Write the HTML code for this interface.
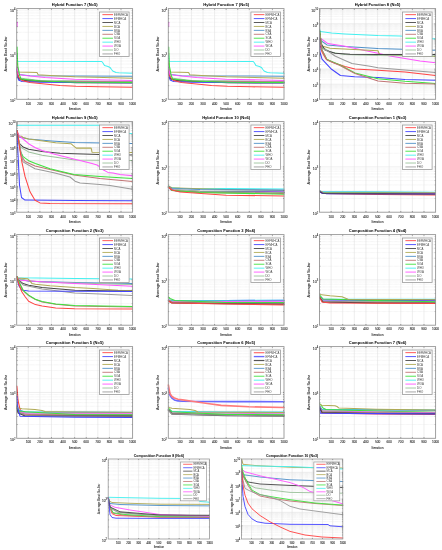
<!DOCTYPE html>
<html><head><meta charset="utf-8"><style>
html,body{margin:0;padding:0;background:#fff;}
svg{display:block;}
text{font-family:'Liberation Sans', Arial, Helvetica, sans-serif;fill:#262626;}
.tl{fill:#333333;stroke:#333333;stroke-width:0.09;}
.lt{fill:#444444;}
.tt{font-weight:bold;fill:#000;}
.g{stroke:#e0e0e0;stroke-width:0.55;}
.mg{stroke:#d6d6d6;stroke-width:0.4;stroke-dasharray:0.6 0.6;}
.cv{fill:none;stroke-linejoin:round;stroke-linecap:round;}
.tk{stroke:#333;fill:none;}
.ax{fill:none;stroke:#969696;}
.lg{fill:#fff;stroke:#9a9a9a;}
</style></head><body>
<svg width="442" height="550" viewBox="0 0 442 550">
<rect width="442" height="550" fill="#fff"/>
<line x1="16.70" y1="85.65" x2="132.60" y2="85.65" class="mg"/>
<line x1="16.70" y1="77.66" x2="132.60" y2="77.66" class="mg"/>
<line x1="16.70" y1="72.00" x2="132.60" y2="72.00" class="mg"/>
<line x1="16.70" y1="67.60" x2="132.60" y2="67.60" class="mg"/>
<line x1="16.70" y1="64.01" x2="132.60" y2="64.01" class="mg"/>
<line x1="16.70" y1="60.97" x2="132.60" y2="60.97" class="mg"/>
<line x1="16.70" y1="58.34" x2="132.60" y2="58.34" class="mg"/>
<line x1="16.70" y1="56.03" x2="132.60" y2="56.03" class="mg"/>
<line x1="16.70" y1="40.30" x2="132.60" y2="40.30" class="mg"/>
<line x1="16.70" y1="32.31" x2="132.60" y2="32.31" class="mg"/>
<line x1="16.70" y1="26.65" x2="132.60" y2="26.65" class="mg"/>
<line x1="16.70" y1="22.25" x2="132.60" y2="22.25" class="mg"/>
<line x1="16.70" y1="18.66" x2="132.60" y2="18.66" class="mg"/>
<line x1="16.70" y1="15.62" x2="132.60" y2="15.62" class="mg"/>
<line x1="16.70" y1="12.99" x2="132.60" y2="12.99" class="mg"/>
<line x1="16.70" y1="10.68" x2="132.60" y2="10.68" class="mg"/>
<line x1="16.70" y1="53.95" x2="132.60" y2="53.95" class="g"/>
<line x1="28.29" y1="8.60" x2="28.29" y2="99.30" class="g"/>
<line x1="39.88" y1="8.60" x2="39.88" y2="99.30" class="g"/>
<line x1="51.47" y1="8.60" x2="51.47" y2="99.30" class="g"/>
<line x1="63.06" y1="8.60" x2="63.06" y2="99.30" class="g"/>
<line x1="74.65" y1="8.60" x2="74.65" y2="99.30" class="g"/>
<line x1="86.24" y1="8.60" x2="86.24" y2="99.30" class="g"/>
<line x1="97.83" y1="8.60" x2="97.83" y2="99.30" class="g"/>
<line x1="109.42" y1="8.60" x2="109.42" y2="99.30" class="g"/>
<line x1="121.01" y1="8.60" x2="121.01" y2="99.30" class="g"/>
<g>
<polyline points="17.0,55.0 17.4,61.3 101.8,61.5 103.0,63.0 104.5,65.6 108.0,66.5 110.0,67.4 111.5,69.5 112.7,71.0 116.0,72.5 118.8,72.8 132.6,73.3" stroke="#44f0f0" class="cv" style="stroke-width:1.05"/>
<polyline points="17.0,66.0 17.5,71.0 19.0,74.5 30.0,75.8 132.6,76.2" stroke="#4f90c8" class="cv" style="stroke-width:1.05"/>
<polyline points="17.0,62.0 17.6,68.0 18.2,72.0 37.0,72.4 38.2,74.8 50.0,75.4 75.0,76.8 132.6,78.3" stroke="#b0aa55" class="cv" style="stroke-width:1.05"/>
<polyline points="17.0,68.0 17.5,73.0 19.0,78.0 40.0,80.5 132.6,81.5" stroke="#9cc29c" class="cv" style="stroke-width:1.05"/>
<polyline points="17.0,68.0 17.5,74.0 19.0,79.0 40.0,81.0 132.6,81.8" stroke="#9a9a9a" class="cv" style="stroke-width:1.05"/>
<polyline points="17.0,69.0 17.5,75.0 18.5,79.0 30.0,81.5 132.6,82.2" stroke="#c07474" class="cv" style="stroke-width:1.05"/>
<polyline points="17.0,69.0 17.5,75.0 18.5,78.5 25.0,80.5 76.0,82.8 132.6,83.0" stroke="#464646" class="cv" style="stroke-width:1.05"/>
<polyline points="17.0,70.0 17.5,75.0 18.5,80.0 22.0,81.5 40.0,82.2 132.6,82.8" stroke="#4444ff" class="cv" style="stroke-width:1.05"/>
<polyline points="17.0,70.0 17.5,73.0 18.5,77.0 22.0,80.5 30.0,82.5 45.0,84.0 60.0,85.5 76.0,86.3 100.0,86.8 132.6,87.3" stroke="#ff4444" class="cv" style="stroke-width:1.05"/>
<polyline points="17.1,22.3 17.1,26.2" stroke="#ff55ff" class="cv" style="stroke-width:1.05"/>
<polyline points="17.0,66.0 17.6,71.0 18.5,74.5 25.0,75.5 45.0,77.5 74.0,79.2 132.6,80.5" stroke="#ff55ff" class="cv" style="stroke-width:1.05"/>
<polyline points="17.1,47.0 17.3,55.0 17.8,66.0 18.8,71.0 19.5,75.0 21.0,79.0 40.0,81.0 76.0,82.3 132.6,82.6" stroke="#3ee23e" class="cv" style="stroke-width:1.05"/>
</g>
<path d="M28.29,99.30v-1.00M28.29,8.60v1.00M39.88,99.30v-1.00M39.88,8.60v1.00M51.47,99.30v-1.00M51.47,8.60v1.00M63.06,99.30v-1.00M63.06,8.60v1.00M74.65,99.30v-1.00M74.65,8.60v1.00M86.24,99.30v-1.00M86.24,8.60v1.00M97.83,99.30v-1.00M97.83,8.60v1.00M109.42,99.30v-1.00M109.42,8.60v1.00M121.01,99.30v-1.00M121.01,8.60v1.00M16.70,53.95h1.00M132.60,53.95h-1.00M16.70,85.65h0.80M132.60,85.65h-0.80M16.70,77.66h0.80M132.60,77.66h-0.80M16.70,72.00h0.80M132.60,72.00h-0.80M16.70,67.60h0.80M132.60,67.60h-0.80M16.70,64.01h0.80M132.60,64.01h-0.80M16.70,60.97h0.80M132.60,60.97h-0.80M16.70,58.34h0.80M132.60,58.34h-0.80M16.70,56.03h0.80M132.60,56.03h-0.80M16.70,40.30h0.80M132.60,40.30h-0.80M16.70,32.31h0.80M132.60,32.31h-0.80M16.70,26.65h0.80M132.60,26.65h-0.80M16.70,22.25h0.80M132.60,22.25h-0.80M16.70,18.66h0.80M132.60,18.66h-0.80M16.70,15.62h0.80M132.60,15.62h-0.80M16.70,12.99h0.80M132.60,12.99h-0.80M16.70,10.68h0.80M132.60,10.68h-0.80" class="tk" style="stroke-width:0.60"/>
<rect x="16.70" y="8.60" width="115.90" height="90.70" class="ax" style="stroke-width:0.90"/>
<text x="28.29" y="105.00" class="tl" text-anchor="middle" style="font-size:3.20px">100</text>
<text x="39.88" y="105.00" class="tl" text-anchor="middle" style="font-size:3.20px">200</text>
<text x="51.47" y="105.00" class="tl" text-anchor="middle" style="font-size:3.20px">300</text>
<text x="63.06" y="105.00" class="tl" text-anchor="middle" style="font-size:3.20px">400</text>
<text x="74.65" y="105.00" class="tl" text-anchor="middle" style="font-size:3.20px">500</text>
<text x="86.24" y="105.00" class="tl" text-anchor="middle" style="font-size:3.20px">600</text>
<text x="97.83" y="105.00" class="tl" text-anchor="middle" style="font-size:3.20px">700</text>
<text x="109.42" y="105.00" class="tl" text-anchor="middle" style="font-size:3.20px">800</text>
<text x="121.01" y="105.00" class="tl" text-anchor="middle" style="font-size:3.20px">900</text>
<text x="132.60" y="105.00" class="tl" text-anchor="middle" style="font-size:3.20px">1000</text>
<text x="15.40" y="102.20" class="tl" text-anchor="end" style="font-size:3.60px">10<tspan dy="-1.60" style="font-size:2.62px">2</tspan></text>
<text x="15.40" y="56.85" class="tl" text-anchor="end" style="font-size:3.60px">10<tspan dy="-1.60" style="font-size:2.62px">3</tspan></text>
<text x="15.40" y="11.50" class="tl" text-anchor="end" style="font-size:3.60px">10<tspan dy="-1.60" style="font-size:2.62px">4</tspan></text>
<text x="74.65" y="109.60" class="tl" text-anchor="middle" style="font-size:3.30px">Iteration</text>
<text transform="translate(6.90,53.95) rotate(-90)" class="tl" text-anchor="middle" style="font-size:3.90px">Average Best So-far</text>
<text x="74.65" y="6.30" class="tt" text-anchor="middle" style="font-size:4.05px">Hybrid Function 7 (N=5)</text>
<rect x="99.50" y="12.00" width="29.60" height="44.40" class="lg" style="stroke-width:0.80"/>
<line x1="102.40" y1="14.65" x2="113.00" y2="14.65" stroke="#ff4444" style="stroke-width:0.89"/>
<text x="114.10" y="15.80" class="lt" style="font-size:2.85px">EEFMHCA</text>
<line x1="102.40" y1="18.58" x2="113.00" y2="18.58" stroke="#4444ff" style="stroke-width:0.89"/>
<text x="114.10" y="19.73" class="lt" style="font-size:2.85px">EFMHCA</text>
<line x1="102.40" y1="22.51" x2="113.00" y2="22.51" stroke="#464646" style="stroke-width:0.89"/>
<text x="114.10" y="23.66" class="lt" style="font-size:2.85px">MCA</text>
<line x1="102.40" y1="26.44" x2="113.00" y2="26.44" stroke="#b0aa55" style="stroke-width:0.89"/>
<text x="114.10" y="27.59" class="lt" style="font-size:2.85px">BCA</text>
<line x1="102.40" y1="30.37" x2="113.00" y2="30.37" stroke="#4f90c8" style="stroke-width:0.89"/>
<text x="114.10" y="31.52" class="lt" style="font-size:2.85px">BSA</text>
<line x1="102.40" y1="34.30" x2="113.00" y2="34.30" stroke="#c07474" style="stroke-width:0.89"/>
<text x="114.10" y="35.45" class="lt" style="font-size:2.85px">CSA</text>
<line x1="102.40" y1="38.23" x2="113.00" y2="38.23" stroke="#3ee23e" style="stroke-width:0.89"/>
<text x="114.10" y="39.38" class="lt" style="font-size:2.85px">SOA</text>
<line x1="102.40" y1="42.16" x2="113.00" y2="42.16" stroke="#44f0f0" style="stroke-width:0.89"/>
<text x="114.10" y="43.31" class="lt" style="font-size:2.85px">WHO</text>
<line x1="102.40" y1="46.09" x2="113.00" y2="46.09" stroke="#ff55ff" style="stroke-width:0.89"/>
<text x="114.10" y="47.24" class="lt" style="font-size:2.85px">WOA</text>
<line x1="102.40" y1="50.02" x2="113.00" y2="50.02" stroke="#9cc29c" style="stroke-width:0.89"/>
<text x="114.10" y="51.17" class="lt" style="font-size:2.85px">DO</text>
<line x1="102.40" y1="53.95" x2="113.00" y2="53.95" stroke="#9a9a9a" style="stroke-width:0.89"/>
<text x="114.10" y="55.10" class="lt" style="font-size:2.85px">FHO</text>
<line x1="168.30" y1="85.65" x2="284.00" y2="85.65" class="mg"/>
<line x1="168.30" y1="77.66" x2="284.00" y2="77.66" class="mg"/>
<line x1="168.30" y1="72.00" x2="284.00" y2="72.00" class="mg"/>
<line x1="168.30" y1="67.60" x2="284.00" y2="67.60" class="mg"/>
<line x1="168.30" y1="64.01" x2="284.00" y2="64.01" class="mg"/>
<line x1="168.30" y1="60.97" x2="284.00" y2="60.97" class="mg"/>
<line x1="168.30" y1="58.34" x2="284.00" y2="58.34" class="mg"/>
<line x1="168.30" y1="56.03" x2="284.00" y2="56.03" class="mg"/>
<line x1="168.30" y1="40.30" x2="284.00" y2="40.30" class="mg"/>
<line x1="168.30" y1="32.31" x2="284.00" y2="32.31" class="mg"/>
<line x1="168.30" y1="26.65" x2="284.00" y2="26.65" class="mg"/>
<line x1="168.30" y1="22.25" x2="284.00" y2="22.25" class="mg"/>
<line x1="168.30" y1="18.66" x2="284.00" y2="18.66" class="mg"/>
<line x1="168.30" y1="15.62" x2="284.00" y2="15.62" class="mg"/>
<line x1="168.30" y1="12.99" x2="284.00" y2="12.99" class="mg"/>
<line x1="168.30" y1="10.68" x2="284.00" y2="10.68" class="mg"/>
<line x1="168.30" y1="53.95" x2="284.00" y2="53.95" class="g"/>
<line x1="179.87" y1="8.60" x2="179.87" y2="99.30" class="g"/>
<line x1="191.44" y1="8.60" x2="191.44" y2="99.30" class="g"/>
<line x1="203.01" y1="8.60" x2="203.01" y2="99.30" class="g"/>
<line x1="214.58" y1="8.60" x2="214.58" y2="99.30" class="g"/>
<line x1="226.15" y1="8.60" x2="226.15" y2="99.30" class="g"/>
<line x1="237.72" y1="8.60" x2="237.72" y2="99.30" class="g"/>
<line x1="249.29" y1="8.60" x2="249.29" y2="99.30" class="g"/>
<line x1="260.86" y1="8.60" x2="260.86" y2="99.30" class="g"/>
<line x1="272.43" y1="8.60" x2="272.43" y2="99.30" class="g"/>
<g>
<polyline points="168.6,55.0 169.0,61.3 253.3,61.5 254.5,63.0 255.9,65.6 259.4,66.5 261.4,67.4 262.9,69.5 264.1,71.0 267.4,72.5 270.2,72.8 284.0,73.3" stroke="#44f0f0" class="cv" style="stroke-width:1.05"/>
<polyline points="168.6,66.0 169.1,71.0 170.6,74.5 181.6,75.8 284.0,76.2" stroke="#4f90c8" class="cv" style="stroke-width:1.05"/>
<polyline points="168.6,62.0 169.2,68.0 169.8,72.0 188.6,72.4 189.8,74.8 201.5,75.4 226.5,76.8 284.0,78.3" stroke="#b0aa55" class="cv" style="stroke-width:1.05"/>
<polyline points="168.6,68.0 169.1,73.0 170.6,78.0 191.6,80.5 284.0,81.5" stroke="#9cc29c" class="cv" style="stroke-width:1.05"/>
<polyline points="168.6,68.0 169.1,74.0 170.6,79.0 191.6,81.0 284.0,81.8" stroke="#9a9a9a" class="cv" style="stroke-width:1.05"/>
<polyline points="168.6,69.0 169.1,75.0 170.1,79.0 181.6,81.5 284.0,82.2" stroke="#c07474" class="cv" style="stroke-width:1.05"/>
<polyline points="168.6,69.0 169.1,75.0 170.1,78.5 176.6,80.5 227.5,82.8 284.0,83.0" stroke="#464646" class="cv" style="stroke-width:1.05"/>
<polyline points="168.6,70.0 169.1,75.0 170.1,80.0 173.6,81.5 191.6,82.2 284.0,82.8" stroke="#4444ff" class="cv" style="stroke-width:1.05"/>
<polyline points="168.6,70.0 169.1,73.0 170.1,77.0 173.6,80.5 181.6,82.5 196.6,84.0 211.5,85.5 227.5,86.3 251.5,86.8 284.0,87.3" stroke="#ff4444" class="cv" style="stroke-width:1.05"/>
<polyline points="168.7,22.3 168.7,26.2" stroke="#ff55ff" class="cv" style="stroke-width:1.05"/>
<polyline points="168.6,66.0 169.2,71.0 170.1,74.5 176.6,75.5 196.6,77.5 225.5,79.2 284.0,80.5" stroke="#ff55ff" class="cv" style="stroke-width:1.05"/>
<polyline points="168.7,47.0 168.9,55.0 169.4,66.0 170.4,71.0 171.1,75.0 172.6,79.0 191.6,81.0 227.5,82.3 284.0,82.6" stroke="#3ee23e" class="cv" style="stroke-width:1.05"/>
</g>
<path d="M179.87,99.30v-1.00M179.87,8.60v1.00M191.44,99.30v-1.00M191.44,8.60v1.00M203.01,99.30v-1.00M203.01,8.60v1.00M214.58,99.30v-1.00M214.58,8.60v1.00M226.15,99.30v-1.00M226.15,8.60v1.00M237.72,99.30v-1.00M237.72,8.60v1.00M249.29,99.30v-1.00M249.29,8.60v1.00M260.86,99.30v-1.00M260.86,8.60v1.00M272.43,99.30v-1.00M272.43,8.60v1.00M168.30,53.95h1.00M284.00,53.95h-1.00M168.30,85.65h0.80M284.00,85.65h-0.80M168.30,77.66h0.80M284.00,77.66h-0.80M168.30,72.00h0.80M284.00,72.00h-0.80M168.30,67.60h0.80M284.00,67.60h-0.80M168.30,64.01h0.80M284.00,64.01h-0.80M168.30,60.97h0.80M284.00,60.97h-0.80M168.30,58.34h0.80M284.00,58.34h-0.80M168.30,56.03h0.80M284.00,56.03h-0.80M168.30,40.30h0.80M284.00,40.30h-0.80M168.30,32.31h0.80M284.00,32.31h-0.80M168.30,26.65h0.80M284.00,26.65h-0.80M168.30,22.25h0.80M284.00,22.25h-0.80M168.30,18.66h0.80M284.00,18.66h-0.80M168.30,15.62h0.80M284.00,15.62h-0.80M168.30,12.99h0.80M284.00,12.99h-0.80M168.30,10.68h0.80M284.00,10.68h-0.80" class="tk" style="stroke-width:0.60"/>
<rect x="168.30" y="8.60" width="115.70" height="90.70" class="ax" style="stroke-width:0.90"/>
<text x="179.87" y="105.00" class="tl" text-anchor="middle" style="font-size:3.20px">100</text>
<text x="191.44" y="105.00" class="tl" text-anchor="middle" style="font-size:3.20px">200</text>
<text x="203.01" y="105.00" class="tl" text-anchor="middle" style="font-size:3.20px">300</text>
<text x="214.58" y="105.00" class="tl" text-anchor="middle" style="font-size:3.20px">400</text>
<text x="226.15" y="105.00" class="tl" text-anchor="middle" style="font-size:3.20px">500</text>
<text x="237.72" y="105.00" class="tl" text-anchor="middle" style="font-size:3.20px">600</text>
<text x="249.29" y="105.00" class="tl" text-anchor="middle" style="font-size:3.20px">700</text>
<text x="260.86" y="105.00" class="tl" text-anchor="middle" style="font-size:3.20px">800</text>
<text x="272.43" y="105.00" class="tl" text-anchor="middle" style="font-size:3.20px">900</text>
<text x="284.00" y="105.00" class="tl" text-anchor="middle" style="font-size:3.20px">1000</text>
<text x="167.00" y="102.20" class="tl" text-anchor="end" style="font-size:3.60px">10<tspan dy="-1.60" style="font-size:2.62px">2</tspan></text>
<text x="167.00" y="56.85" class="tl" text-anchor="end" style="font-size:3.60px">10<tspan dy="-1.60" style="font-size:2.62px">3</tspan></text>
<text x="167.00" y="11.50" class="tl" text-anchor="end" style="font-size:3.60px">10<tspan dy="-1.60" style="font-size:2.62px">4</tspan></text>
<text x="226.15" y="109.60" class="tl" text-anchor="middle" style="font-size:3.30px">Iteration</text>
<text transform="translate(158.50,53.95) rotate(-90)" class="tl" text-anchor="middle" style="font-size:3.90px">Average Best So-far</text>
<text x="226.15" y="6.30" class="tt" text-anchor="middle" style="font-size:4.05px">Hybrid Function 7 (N=5)</text>
<rect x="250.90" y="12.00" width="29.60" height="44.40" class="lg" style="stroke-width:0.80"/>
<line x1="253.80" y1="14.65" x2="264.40" y2="14.65" stroke="#ff4444" style="stroke-width:0.89"/>
<text x="265.50" y="15.80" class="lt" style="font-size:2.85px">EEFMHCA</text>
<line x1="253.80" y1="18.58" x2="264.40" y2="18.58" stroke="#4444ff" style="stroke-width:0.89"/>
<text x="265.50" y="19.73" class="lt" style="font-size:2.85px">EFMHCA</text>
<line x1="253.80" y1="22.51" x2="264.40" y2="22.51" stroke="#464646" style="stroke-width:0.89"/>
<text x="265.50" y="23.66" class="lt" style="font-size:2.85px">MCA</text>
<line x1="253.80" y1="26.44" x2="264.40" y2="26.44" stroke="#b0aa55" style="stroke-width:0.89"/>
<text x="265.50" y="27.59" class="lt" style="font-size:2.85px">BCA</text>
<line x1="253.80" y1="30.37" x2="264.40" y2="30.37" stroke="#4f90c8" style="stroke-width:0.89"/>
<text x="265.50" y="31.52" class="lt" style="font-size:2.85px">BSA</text>
<line x1="253.80" y1="34.30" x2="264.40" y2="34.30" stroke="#c07474" style="stroke-width:0.89"/>
<text x="265.50" y="35.45" class="lt" style="font-size:2.85px">CSA</text>
<line x1="253.80" y1="38.23" x2="264.40" y2="38.23" stroke="#3ee23e" style="stroke-width:0.89"/>
<text x="265.50" y="39.38" class="lt" style="font-size:2.85px">SOA</text>
<line x1="253.80" y1="42.16" x2="264.40" y2="42.16" stroke="#44f0f0" style="stroke-width:0.89"/>
<text x="265.50" y="43.31" class="lt" style="font-size:2.85px">WHO</text>
<line x1="253.80" y1="46.09" x2="264.40" y2="46.09" stroke="#ff55ff" style="stroke-width:0.89"/>
<text x="265.50" y="47.24" class="lt" style="font-size:2.85px">WOA</text>
<line x1="253.80" y1="50.02" x2="264.40" y2="50.02" stroke="#9cc29c" style="stroke-width:0.89"/>
<text x="265.50" y="51.17" class="lt" style="font-size:2.85px">DO</text>
<line x1="253.80" y1="53.95" x2="264.40" y2="53.95" stroke="#9a9a9a" style="stroke-width:0.89"/>
<text x="265.50" y="55.10" class="lt" style="font-size:2.85px">FHO</text>
<line x1="319.50" y1="94.75" x2="435.60" y2="94.75" class="mg"/>
<line x1="319.50" y1="92.09" x2="435.60" y2="92.09" class="mg"/>
<line x1="319.50" y1="90.20" x2="435.60" y2="90.20" class="mg"/>
<line x1="319.50" y1="88.73" x2="435.60" y2="88.73" class="mg"/>
<line x1="319.50" y1="87.54" x2="435.60" y2="87.54" class="mg"/>
<line x1="319.50" y1="86.52" x2="435.60" y2="86.52" class="mg"/>
<line x1="319.50" y1="85.65" x2="435.60" y2="85.65" class="mg"/>
<line x1="319.50" y1="84.88" x2="435.60" y2="84.88" class="mg"/>
<line x1="319.50" y1="79.63" x2="435.60" y2="79.63" class="mg"/>
<line x1="319.50" y1="76.97" x2="435.60" y2="76.97" class="mg"/>
<line x1="319.50" y1="75.08" x2="435.60" y2="75.08" class="mg"/>
<line x1="319.50" y1="73.62" x2="435.60" y2="73.62" class="mg"/>
<line x1="319.50" y1="72.42" x2="435.60" y2="72.42" class="mg"/>
<line x1="319.50" y1="71.41" x2="435.60" y2="71.41" class="mg"/>
<line x1="319.50" y1="70.53" x2="435.60" y2="70.53" class="mg"/>
<line x1="319.50" y1="69.76" x2="435.60" y2="69.76" class="mg"/>
<line x1="319.50" y1="64.52" x2="435.60" y2="64.52" class="mg"/>
<line x1="319.50" y1="61.85" x2="435.60" y2="61.85" class="mg"/>
<line x1="319.50" y1="59.97" x2="435.60" y2="59.97" class="mg"/>
<line x1="319.50" y1="58.50" x2="435.60" y2="58.50" class="mg"/>
<line x1="319.50" y1="57.30" x2="435.60" y2="57.30" class="mg"/>
<line x1="319.50" y1="56.29" x2="435.60" y2="56.29" class="mg"/>
<line x1="319.50" y1="55.41" x2="435.60" y2="55.41" class="mg"/>
<line x1="319.50" y1="54.64" x2="435.60" y2="54.64" class="mg"/>
<line x1="319.50" y1="49.40" x2="435.60" y2="49.40" class="mg"/>
<line x1="319.50" y1="46.74" x2="435.60" y2="46.74" class="mg"/>
<line x1="319.50" y1="44.85" x2="435.60" y2="44.85" class="mg"/>
<line x1="319.50" y1="43.38" x2="435.60" y2="43.38" class="mg"/>
<line x1="319.50" y1="42.19" x2="435.60" y2="42.19" class="mg"/>
<line x1="319.50" y1="41.17" x2="435.60" y2="41.17" class="mg"/>
<line x1="319.50" y1="40.30" x2="435.60" y2="40.30" class="mg"/>
<line x1="319.50" y1="39.53" x2="435.60" y2="39.53" class="mg"/>
<line x1="319.50" y1="34.28" x2="435.60" y2="34.28" class="mg"/>
<line x1="319.50" y1="31.62" x2="435.60" y2="31.62" class="mg"/>
<line x1="319.50" y1="29.73" x2="435.60" y2="29.73" class="mg"/>
<line x1="319.50" y1="28.27" x2="435.60" y2="28.27" class="mg"/>
<line x1="319.50" y1="27.07" x2="435.60" y2="27.07" class="mg"/>
<line x1="319.50" y1="26.06" x2="435.60" y2="26.06" class="mg"/>
<line x1="319.50" y1="25.18" x2="435.60" y2="25.18" class="mg"/>
<line x1="319.50" y1="24.41" x2="435.60" y2="24.41" class="mg"/>
<line x1="319.50" y1="19.17" x2="435.60" y2="19.17" class="mg"/>
<line x1="319.50" y1="16.50" x2="435.60" y2="16.50" class="mg"/>
<line x1="319.50" y1="14.62" x2="435.60" y2="14.62" class="mg"/>
<line x1="319.50" y1="13.15" x2="435.60" y2="13.15" class="mg"/>
<line x1="319.50" y1="11.95" x2="435.60" y2="11.95" class="mg"/>
<line x1="319.50" y1="10.94" x2="435.60" y2="10.94" class="mg"/>
<line x1="319.50" y1="10.06" x2="435.60" y2="10.06" class="mg"/>
<line x1="319.50" y1="9.29" x2="435.60" y2="9.29" class="mg"/>
<line x1="319.50" y1="84.18" x2="435.60" y2="84.18" class="g"/>
<line x1="319.50" y1="69.07" x2="435.60" y2="69.07" class="g"/>
<line x1="319.50" y1="53.95" x2="435.60" y2="53.95" class="g"/>
<line x1="319.50" y1="38.83" x2="435.60" y2="38.83" class="g"/>
<line x1="319.50" y1="23.72" x2="435.60" y2="23.72" class="g"/>
<line x1="331.11" y1="8.60" x2="331.11" y2="99.30" class="g"/>
<line x1="342.72" y1="8.60" x2="342.72" y2="99.30" class="g"/>
<line x1="354.33" y1="8.60" x2="354.33" y2="99.30" class="g"/>
<line x1="365.94" y1="8.60" x2="365.94" y2="99.30" class="g"/>
<line x1="377.55" y1="8.60" x2="377.55" y2="99.30" class="g"/>
<line x1="389.16" y1="8.60" x2="389.16" y2="99.30" class="g"/>
<line x1="400.77" y1="8.60" x2="400.77" y2="99.30" class="g"/>
<line x1="412.38" y1="8.60" x2="412.38" y2="99.30" class="g"/>
<line x1="423.99" y1="8.60" x2="423.99" y2="99.30" class="g"/>
<g>
<polyline points="319.6,29.0 320.0,31.4 331.6,33.1 345.0,34.0 378.0,35.5 400.0,36.0 420.0,37.5 435.6,39.0" stroke="#44f0f0" class="cv" style="stroke-width:1.05"/>
<polyline points="319.6,30.0 320.0,40.0 327.0,44.9 345.0,46.5 378.0,48.4 435.6,50.3" stroke="#4f90c8" class="cv" style="stroke-width:1.05"/>
<polyline points="319.6,30.0 320.0,38.0 328.0,43.6 345.0,46.3 360.0,49.5 378.0,53.3 390.0,56.0 405.0,58.5 420.0,61.0 435.6,62.8" stroke="#ff55ff" class="cv" style="stroke-width:1.05"/>
<polyline points="319.6,32.0 322.0,46.0 330.0,48.3 378.0,50.8 379.5,54.5 400.0,55.5 435.6,56.6" stroke="#b0aa55" class="cv" style="stroke-width:1.05"/>
<polyline points="319.6,32.0 322.0,47.0 330.0,52.0 345.0,54.5 378.0,55.6 435.6,56.0" stroke="#9cc29c" class="cv" style="stroke-width:1.05"/>
<polyline points="319.6,31.0 320.0,42.0 325.0,50.0 335.0,53.3 350.0,54.3 378.0,54.5 435.6,54.5" stroke="#464646" class="cv" style="stroke-width:1.05"/>
<polyline points="319.6,32.0 322.0,48.0 330.0,52.5 335.0,56.0 345.0,60.4 352.0,63.5 370.0,66.3 378.0,67.8 405.0,70.0 435.6,72.5" stroke="#9a9a9a" class="cv" style="stroke-width:1.05"/>
<polyline points="319.6,33.0 320.0,45.0 322.0,52.0 326.0,59.0 333.0,62.5 345.0,66.6 355.0,69.0 378.0,70.2 405.0,72.0 435.6,75.4" stroke="#ff4444" class="cv" style="stroke-width:1.05"/>
<polyline points="319.6,35.0 320.0,52.0 322.0,59.2 331.6,69.3 340.4,75.5 354.6,76.8 378.0,77.5 405.0,79.5 435.6,80.2" stroke="#4444ff" class="cv" style="stroke-width:1.05"/>
<polyline points="319.6,30.0 322.0,50.0 327.0,59.5 340.0,65.0 355.0,73.0 378.0,78.8 405.0,81.3 435.6,83.4" stroke="#3ee23e" class="cv" style="stroke-width:1.05"/>
<polyline points="319.6,33.0 322.0,50.0 327.0,60.0 340.0,65.5 355.0,73.5 378.0,81.0 405.0,83.2 435.6,84.0" stroke="#c07474" class="cv" style="stroke-width:1.05"/>
</g>
<path d="M331.11,99.30v-1.00M331.11,8.60v1.00M342.72,99.30v-1.00M342.72,8.60v1.00M354.33,99.30v-1.00M354.33,8.60v1.00M365.94,99.30v-1.00M365.94,8.60v1.00M377.55,99.30v-1.00M377.55,8.60v1.00M389.16,99.30v-1.00M389.16,8.60v1.00M400.77,99.30v-1.00M400.77,8.60v1.00M412.38,99.30v-1.00M412.38,8.60v1.00M423.99,99.30v-1.00M423.99,8.60v1.00M319.50,84.18h1.00M435.60,84.18h-1.00M319.50,69.07h1.00M435.60,69.07h-1.00M319.50,53.95h1.00M435.60,53.95h-1.00M319.50,38.83h1.00M435.60,38.83h-1.00M319.50,23.72h1.00M435.60,23.72h-1.00M319.50,94.75h0.80M435.60,94.75h-0.80M319.50,92.09h0.80M435.60,92.09h-0.80M319.50,90.20h0.80M435.60,90.20h-0.80M319.50,88.73h0.80M435.60,88.73h-0.80M319.50,87.54h0.80M435.60,87.54h-0.80M319.50,86.52h0.80M435.60,86.52h-0.80M319.50,85.65h0.80M435.60,85.65h-0.80M319.50,84.88h0.80M435.60,84.88h-0.80M319.50,79.63h0.80M435.60,79.63h-0.80M319.50,76.97h0.80M435.60,76.97h-0.80M319.50,75.08h0.80M435.60,75.08h-0.80M319.50,73.62h0.80M435.60,73.62h-0.80M319.50,72.42h0.80M435.60,72.42h-0.80M319.50,71.41h0.80M435.60,71.41h-0.80M319.50,70.53h0.80M435.60,70.53h-0.80M319.50,69.76h0.80M435.60,69.76h-0.80M319.50,64.52h0.80M435.60,64.52h-0.80M319.50,61.85h0.80M435.60,61.85h-0.80M319.50,59.97h0.80M435.60,59.97h-0.80M319.50,58.50h0.80M435.60,58.50h-0.80M319.50,57.30h0.80M435.60,57.30h-0.80M319.50,56.29h0.80M435.60,56.29h-0.80M319.50,55.41h0.80M435.60,55.41h-0.80M319.50,54.64h0.80M435.60,54.64h-0.80M319.50,49.40h0.80M435.60,49.40h-0.80M319.50,46.74h0.80M435.60,46.74h-0.80M319.50,44.85h0.80M435.60,44.85h-0.80M319.50,43.38h0.80M435.60,43.38h-0.80M319.50,42.19h0.80M435.60,42.19h-0.80M319.50,41.17h0.80M435.60,41.17h-0.80M319.50,40.30h0.80M435.60,40.30h-0.80M319.50,39.53h0.80M435.60,39.53h-0.80M319.50,34.28h0.80M435.60,34.28h-0.80M319.50,31.62h0.80M435.60,31.62h-0.80M319.50,29.73h0.80M435.60,29.73h-0.80M319.50,28.27h0.80M435.60,28.27h-0.80M319.50,27.07h0.80M435.60,27.07h-0.80M319.50,26.06h0.80M435.60,26.06h-0.80M319.50,25.18h0.80M435.60,25.18h-0.80M319.50,24.41h0.80M435.60,24.41h-0.80M319.50,19.17h0.80M435.60,19.17h-0.80M319.50,16.50h0.80M435.60,16.50h-0.80M319.50,14.62h0.80M435.60,14.62h-0.80M319.50,13.15h0.80M435.60,13.15h-0.80M319.50,11.95h0.80M435.60,11.95h-0.80M319.50,10.94h0.80M435.60,10.94h-0.80M319.50,10.06h0.80M435.60,10.06h-0.80M319.50,9.29h0.80M435.60,9.29h-0.80" class="tk" style="stroke-width:0.60"/>
<rect x="319.50" y="8.60" width="116.10" height="90.70" class="ax" style="stroke-width:0.90"/>
<text x="331.11" y="105.00" class="tl" text-anchor="middle" style="font-size:3.20px">100</text>
<text x="342.72" y="105.00" class="tl" text-anchor="middle" style="font-size:3.20px">200</text>
<text x="354.33" y="105.00" class="tl" text-anchor="middle" style="font-size:3.20px">300</text>
<text x="365.94" y="105.00" class="tl" text-anchor="middle" style="font-size:3.20px">400</text>
<text x="377.55" y="105.00" class="tl" text-anchor="middle" style="font-size:3.20px">500</text>
<text x="389.16" y="105.00" class="tl" text-anchor="middle" style="font-size:3.20px">600</text>
<text x="400.77" y="105.00" class="tl" text-anchor="middle" style="font-size:3.20px">700</text>
<text x="412.38" y="105.00" class="tl" text-anchor="middle" style="font-size:3.20px">800</text>
<text x="423.99" y="105.00" class="tl" text-anchor="middle" style="font-size:3.20px">900</text>
<text x="435.60" y="105.00" class="tl" text-anchor="middle" style="font-size:3.20px">1000</text>
<text x="318.20" y="102.20" class="tl" text-anchor="end" style="font-size:3.60px">10<tspan dy="-1.60" style="font-size:2.62px">4</tspan></text>
<text x="318.20" y="87.08" class="tl" text-anchor="end" style="font-size:3.60px">10<tspan dy="-1.60" style="font-size:2.62px">5</tspan></text>
<text x="318.20" y="71.97" class="tl" text-anchor="end" style="font-size:3.60px">10<tspan dy="-1.60" style="font-size:2.62px">6</tspan></text>
<text x="318.20" y="56.85" class="tl" text-anchor="end" style="font-size:3.60px">10<tspan dy="-1.60" style="font-size:2.62px">7</tspan></text>
<text x="318.20" y="41.73" class="tl" text-anchor="end" style="font-size:3.60px">10<tspan dy="-1.60" style="font-size:2.62px">8</tspan></text>
<text x="318.20" y="26.62" class="tl" text-anchor="end" style="font-size:3.60px">10<tspan dy="-1.60" style="font-size:2.62px">9</tspan></text>
<text x="318.20" y="11.50" class="tl" text-anchor="end" style="font-size:3.60px">10<tspan dy="-1.60" style="font-size:2.62px">10</tspan></text>
<text x="377.55" y="109.60" class="tl" text-anchor="middle" style="font-size:3.30px">Iteration</text>
<text transform="translate(309.70,53.95) rotate(-90)" class="tl" text-anchor="middle" style="font-size:3.90px">Average Best So-far</text>
<text x="377.55" y="6.30" class="tt" text-anchor="middle" style="font-size:4.05px">Hybrid Function 8 (N=5)</text>
<rect x="402.50" y="12.00" width="29.60" height="44.40" class="lg" style="stroke-width:0.80"/>
<line x1="405.40" y1="14.65" x2="416.00" y2="14.65" stroke="#ff4444" style="stroke-width:0.89"/>
<text x="417.10" y="15.80" class="lt" style="font-size:2.85px">EEFMHCA</text>
<line x1="405.40" y1="18.58" x2="416.00" y2="18.58" stroke="#4444ff" style="stroke-width:0.89"/>
<text x="417.10" y="19.73" class="lt" style="font-size:2.85px">EFMHCA</text>
<line x1="405.40" y1="22.51" x2="416.00" y2="22.51" stroke="#464646" style="stroke-width:0.89"/>
<text x="417.10" y="23.66" class="lt" style="font-size:2.85px">MCA</text>
<line x1="405.40" y1="26.44" x2="416.00" y2="26.44" stroke="#b0aa55" style="stroke-width:0.89"/>
<text x="417.10" y="27.59" class="lt" style="font-size:2.85px">BCA</text>
<line x1="405.40" y1="30.37" x2="416.00" y2="30.37" stroke="#4f90c8" style="stroke-width:0.89"/>
<text x="417.10" y="31.52" class="lt" style="font-size:2.85px">BSA</text>
<line x1="405.40" y1="34.30" x2="416.00" y2="34.30" stroke="#c07474" style="stroke-width:0.89"/>
<text x="417.10" y="35.45" class="lt" style="font-size:2.85px">CSA</text>
<line x1="405.40" y1="38.23" x2="416.00" y2="38.23" stroke="#3ee23e" style="stroke-width:0.89"/>
<text x="417.10" y="39.38" class="lt" style="font-size:2.85px">SOA</text>
<line x1="405.40" y1="42.16" x2="416.00" y2="42.16" stroke="#44f0f0" style="stroke-width:0.89"/>
<text x="417.10" y="43.31" class="lt" style="font-size:2.85px">WHO</text>
<line x1="405.40" y1="46.09" x2="416.00" y2="46.09" stroke="#ff55ff" style="stroke-width:0.89"/>
<text x="417.10" y="47.24" class="lt" style="font-size:2.85px">WOA</text>
<line x1="405.40" y1="50.02" x2="416.00" y2="50.02" stroke="#9cc29c" style="stroke-width:0.89"/>
<text x="417.10" y="51.17" class="lt" style="font-size:2.85px">DO</text>
<line x1="405.40" y1="53.95" x2="416.00" y2="53.95" stroke="#9a9a9a" style="stroke-width:0.89"/>
<text x="417.10" y="55.10" class="lt" style="font-size:2.85px">FHO</text>
<line x1="16.70" y1="208.30" x2="132.60" y2="208.30" class="mg"/>
<line x1="16.70" y1="206.02" x2="132.60" y2="206.02" class="mg"/>
<line x1="16.70" y1="204.41" x2="132.60" y2="204.41" class="mg"/>
<line x1="16.70" y1="203.15" x2="132.60" y2="203.15" class="mg"/>
<line x1="16.70" y1="202.13" x2="132.60" y2="202.13" class="mg"/>
<line x1="16.70" y1="201.26" x2="132.60" y2="201.26" class="mg"/>
<line x1="16.70" y1="200.51" x2="132.60" y2="200.51" class="mg"/>
<line x1="16.70" y1="199.85" x2="132.60" y2="199.85" class="mg"/>
<line x1="16.70" y1="195.36" x2="132.60" y2="195.36" class="mg"/>
<line x1="16.70" y1="193.08" x2="132.60" y2="193.08" class="mg"/>
<line x1="16.70" y1="191.46" x2="132.60" y2="191.46" class="mg"/>
<line x1="16.70" y1="190.21" x2="132.60" y2="190.21" class="mg"/>
<line x1="16.70" y1="189.19" x2="132.60" y2="189.19" class="mg"/>
<line x1="16.70" y1="188.32" x2="132.60" y2="188.32" class="mg"/>
<line x1="16.70" y1="187.57" x2="132.60" y2="187.57" class="mg"/>
<line x1="16.70" y1="186.91" x2="132.60" y2="186.91" class="mg"/>
<line x1="16.70" y1="182.42" x2="132.60" y2="182.42" class="mg"/>
<line x1="16.70" y1="180.14" x2="132.60" y2="180.14" class="mg"/>
<line x1="16.70" y1="178.52" x2="132.60" y2="178.52" class="mg"/>
<line x1="16.70" y1="177.27" x2="132.60" y2="177.27" class="mg"/>
<line x1="16.70" y1="176.24" x2="132.60" y2="176.24" class="mg"/>
<line x1="16.70" y1="175.38" x2="132.60" y2="175.38" class="mg"/>
<line x1="16.70" y1="174.63" x2="132.60" y2="174.63" class="mg"/>
<line x1="16.70" y1="173.96" x2="132.60" y2="173.96" class="mg"/>
<line x1="16.70" y1="169.48" x2="132.60" y2="169.48" class="mg"/>
<line x1="16.70" y1="167.20" x2="132.60" y2="167.20" class="mg"/>
<line x1="16.70" y1="165.58" x2="132.60" y2="165.58" class="mg"/>
<line x1="16.70" y1="164.32" x2="132.60" y2="164.32" class="mg"/>
<line x1="16.70" y1="163.30" x2="132.60" y2="163.30" class="mg"/>
<line x1="16.70" y1="162.43" x2="132.60" y2="162.43" class="mg"/>
<line x1="16.70" y1="161.68" x2="132.60" y2="161.68" class="mg"/>
<line x1="16.70" y1="161.02" x2="132.60" y2="161.02" class="mg"/>
<line x1="16.70" y1="156.53" x2="132.60" y2="156.53" class="mg"/>
<line x1="16.70" y1="154.25" x2="132.60" y2="154.25" class="mg"/>
<line x1="16.70" y1="152.64" x2="132.60" y2="152.64" class="mg"/>
<line x1="16.70" y1="151.38" x2="132.60" y2="151.38" class="mg"/>
<line x1="16.70" y1="150.36" x2="132.60" y2="150.36" class="mg"/>
<line x1="16.70" y1="149.49" x2="132.60" y2="149.49" class="mg"/>
<line x1="16.70" y1="148.74" x2="132.60" y2="148.74" class="mg"/>
<line x1="16.70" y1="148.08" x2="132.60" y2="148.08" class="mg"/>
<line x1="16.70" y1="143.59" x2="132.60" y2="143.59" class="mg"/>
<line x1="16.70" y1="141.31" x2="132.60" y2="141.31" class="mg"/>
<line x1="16.70" y1="139.69" x2="132.60" y2="139.69" class="mg"/>
<line x1="16.70" y1="138.44" x2="132.60" y2="138.44" class="mg"/>
<line x1="16.70" y1="137.41" x2="132.60" y2="137.41" class="mg"/>
<line x1="16.70" y1="136.55" x2="132.60" y2="136.55" class="mg"/>
<line x1="16.70" y1="135.80" x2="132.60" y2="135.80" class="mg"/>
<line x1="16.70" y1="135.14" x2="132.60" y2="135.14" class="mg"/>
<line x1="16.70" y1="130.65" x2="132.60" y2="130.65" class="mg"/>
<line x1="16.70" y1="128.37" x2="132.60" y2="128.37" class="mg"/>
<line x1="16.70" y1="126.75" x2="132.60" y2="126.75" class="mg"/>
<line x1="16.70" y1="125.50" x2="132.60" y2="125.50" class="mg"/>
<line x1="16.70" y1="124.47" x2="132.60" y2="124.47" class="mg"/>
<line x1="16.70" y1="123.60" x2="132.60" y2="123.60" class="mg"/>
<line x1="16.70" y1="122.85" x2="132.60" y2="122.85" class="mg"/>
<line x1="16.70" y1="122.19" x2="132.60" y2="122.19" class="mg"/>
<line x1="16.70" y1="199.26" x2="132.60" y2="199.26" class="g"/>
<line x1="16.70" y1="186.31" x2="132.60" y2="186.31" class="g"/>
<line x1="16.70" y1="173.37" x2="132.60" y2="173.37" class="g"/>
<line x1="16.70" y1="160.43" x2="132.60" y2="160.43" class="g"/>
<line x1="16.70" y1="147.49" x2="132.60" y2="147.49" class="g"/>
<line x1="16.70" y1="134.54" x2="132.60" y2="134.54" class="g"/>
<line x1="28.29" y1="121.60" x2="28.29" y2="212.20" class="g"/>
<line x1="39.88" y1="121.60" x2="39.88" y2="212.20" class="g"/>
<line x1="51.47" y1="121.60" x2="51.47" y2="212.20" class="g"/>
<line x1="63.06" y1="121.60" x2="63.06" y2="212.20" class="g"/>
<line x1="74.65" y1="121.60" x2="74.65" y2="212.20" class="g"/>
<line x1="86.24" y1="121.60" x2="86.24" y2="212.20" class="g"/>
<line x1="97.83" y1="121.60" x2="97.83" y2="212.20" class="g"/>
<line x1="109.42" y1="121.60" x2="109.42" y2="212.20" class="g"/>
<line x1="121.01" y1="121.60" x2="121.01" y2="212.20" class="g"/>
<g>
<polyline points="16.9,125.2 99.0,125.2 110.0,128.0 125.0,133.3 132.6,133.5" stroke="#44f0f0" class="cv" style="stroke-width:1.05"/>
<polyline points="16.9,131.0 19.0,137.0 28.6,139.0 51.6,141.0 74.7,142.6 132.6,143.4" stroke="#4f90c8" class="cv" style="stroke-width:1.05"/>
<polyline points="16.9,131.0 19.0,136.3 21.8,136.3 23.1,137.6 28.6,139.0 39.4,140.6 55.7,142.8 70.9,143.7 73.5,145.8 76.3,148.1 91.2,148.1 92.0,152.2 132.6,152.4" stroke="#b0aa55" class="cv" style="stroke-width:1.05"/>
<polyline points="16.9,131.0 19.0,143.0 23.1,147.1 28.6,149.2 42.1,151.5 60.0,153.2 74.7,153.7 100.0,154.5 132.6,155.0" stroke="#464646" class="cv" style="stroke-width:1.05"/>
<polyline points="16.9,131.0 18.0,138.0 20.4,147.1 28.6,151.9 42.1,155.3 74.7,160.0 132.6,160.5" stroke="#9cc29c" class="cv" style="stroke-width:1.05"/>
<polyline points="16.9,131.0 19.0,135.6 23.1,139.0 28.6,143.7 35.4,147.8 42.1,150.5 55.7,154.6 74.7,159.3 80.0,160.5 90.0,162.9 92.0,163.5 97.0,165.0 100.0,167.0 103.0,169.7 108.0,172.4 113.0,173.1 120.0,174.5 132.6,175.8" stroke="#ff55ff" class="cv" style="stroke-width:1.05"/>
<polyline points="16.9,130.3 19.0,141.0 21.0,155.0 25.0,161.5 35.0,166.0 50.0,169.5 74.0,175.0 100.0,178.5 132.6,181.5" stroke="#c07474" class="cv" style="stroke-width:1.05"/>
<polyline points="16.9,131.0 18.4,140.4 20.4,151.2 23.1,156.6 28.6,160.7 35.4,163.4 50.0,168.7 74.0,174.4 100.0,176.5 132.6,178.5" stroke="#3ee23e" class="cv" style="stroke-width:1.05"/>
<polyline points="16.9,130.3 19.0,142.0 23.0,161.9 35.0,168.7 55.0,173.0 70.0,177.0 75.0,181.2 80.0,183.0 100.0,184.5 110.0,185.5 132.6,189.3" stroke="#9a9a9a" class="cv" style="stroke-width:1.05"/>
<polyline points="16.9,131.0 18.0,154.0 19.5,185.0 21.5,197.5 25.0,200.1 75.0,200.5 132.6,200.7" stroke="#4444ff" class="cv" style="stroke-width:1.05"/>
<polyline points="16.9,130.3 17.5,132.0 19.0,144.0 22.0,162.7 25.0,176.4 30.0,191.8 35.0,200.3 40.0,202.9 50.0,203.5 132.6,203.8" stroke="#ff4444" class="cv" style="stroke-width:1.05"/>
</g>
<path d="M28.29,212.20v-1.00M28.29,121.60v1.00M39.88,212.20v-1.00M39.88,121.60v1.00M51.47,212.20v-1.00M51.47,121.60v1.00M63.06,212.20v-1.00M63.06,121.60v1.00M74.65,212.20v-1.00M74.65,121.60v1.00M86.24,212.20v-1.00M86.24,121.60v1.00M97.83,212.20v-1.00M97.83,121.60v1.00M109.42,212.20v-1.00M109.42,121.60v1.00M121.01,212.20v-1.00M121.01,121.60v1.00M16.70,199.26h1.00M132.60,199.26h-1.00M16.70,186.31h1.00M132.60,186.31h-1.00M16.70,173.37h1.00M132.60,173.37h-1.00M16.70,160.43h1.00M132.60,160.43h-1.00M16.70,147.49h1.00M132.60,147.49h-1.00M16.70,134.54h1.00M132.60,134.54h-1.00M16.70,208.30h0.80M132.60,208.30h-0.80M16.70,206.02h0.80M132.60,206.02h-0.80M16.70,204.41h0.80M132.60,204.41h-0.80M16.70,203.15h0.80M132.60,203.15h-0.80M16.70,202.13h0.80M132.60,202.13h-0.80M16.70,201.26h0.80M132.60,201.26h-0.80M16.70,200.51h0.80M132.60,200.51h-0.80M16.70,199.85h0.80M132.60,199.85h-0.80M16.70,195.36h0.80M132.60,195.36h-0.80M16.70,193.08h0.80M132.60,193.08h-0.80M16.70,191.46h0.80M132.60,191.46h-0.80M16.70,190.21h0.80M132.60,190.21h-0.80M16.70,189.19h0.80M132.60,189.19h-0.80M16.70,188.32h0.80M132.60,188.32h-0.80M16.70,187.57h0.80M132.60,187.57h-0.80M16.70,186.91h0.80M132.60,186.91h-0.80M16.70,182.42h0.80M132.60,182.42h-0.80M16.70,180.14h0.80M132.60,180.14h-0.80M16.70,178.52h0.80M132.60,178.52h-0.80M16.70,177.27h0.80M132.60,177.27h-0.80M16.70,176.24h0.80M132.60,176.24h-0.80M16.70,175.38h0.80M132.60,175.38h-0.80M16.70,174.63h0.80M132.60,174.63h-0.80M16.70,173.96h0.80M132.60,173.96h-0.80M16.70,169.48h0.80M132.60,169.48h-0.80M16.70,167.20h0.80M132.60,167.20h-0.80M16.70,165.58h0.80M132.60,165.58h-0.80M16.70,164.32h0.80M132.60,164.32h-0.80M16.70,163.30h0.80M132.60,163.30h-0.80M16.70,162.43h0.80M132.60,162.43h-0.80M16.70,161.68h0.80M132.60,161.68h-0.80M16.70,161.02h0.80M132.60,161.02h-0.80M16.70,156.53h0.80M132.60,156.53h-0.80M16.70,154.25h0.80M132.60,154.25h-0.80M16.70,152.64h0.80M132.60,152.64h-0.80M16.70,151.38h0.80M132.60,151.38h-0.80M16.70,150.36h0.80M132.60,150.36h-0.80M16.70,149.49h0.80M132.60,149.49h-0.80M16.70,148.74h0.80M132.60,148.74h-0.80M16.70,148.08h0.80M132.60,148.08h-0.80M16.70,143.59h0.80M132.60,143.59h-0.80M16.70,141.31h0.80M132.60,141.31h-0.80M16.70,139.69h0.80M132.60,139.69h-0.80M16.70,138.44h0.80M132.60,138.44h-0.80M16.70,137.41h0.80M132.60,137.41h-0.80M16.70,136.55h0.80M132.60,136.55h-0.80M16.70,135.80h0.80M132.60,135.80h-0.80M16.70,135.14h0.80M132.60,135.14h-0.80M16.70,130.65h0.80M132.60,130.65h-0.80M16.70,128.37h0.80M132.60,128.37h-0.80M16.70,126.75h0.80M132.60,126.75h-0.80M16.70,125.50h0.80M132.60,125.50h-0.80M16.70,124.47h0.80M132.60,124.47h-0.80M16.70,123.60h0.80M132.60,123.60h-0.80M16.70,122.85h0.80M132.60,122.85h-0.80M16.70,122.19h0.80M132.60,122.19h-0.80" class="tk" style="stroke-width:0.60"/>
<rect x="16.70" y="121.60" width="115.90" height="90.60" class="ax" style="stroke-width:0.90"/>
<text x="28.29" y="218.00" class="tl" text-anchor="middle" style="font-size:3.20px">100</text>
<text x="39.88" y="218.00" class="tl" text-anchor="middle" style="font-size:3.20px">200</text>
<text x="51.47" y="218.00" class="tl" text-anchor="middle" style="font-size:3.20px">300</text>
<text x="63.06" y="218.00" class="tl" text-anchor="middle" style="font-size:3.20px">400</text>
<text x="74.65" y="218.00" class="tl" text-anchor="middle" style="font-size:3.20px">500</text>
<text x="86.24" y="218.00" class="tl" text-anchor="middle" style="font-size:3.20px">600</text>
<text x="97.83" y="218.00" class="tl" text-anchor="middle" style="font-size:3.20px">700</text>
<text x="109.42" y="218.00" class="tl" text-anchor="middle" style="font-size:3.20px">800</text>
<text x="121.01" y="218.00" class="tl" text-anchor="middle" style="font-size:3.20px">900</text>
<text x="132.60" y="218.00" class="tl" text-anchor="middle" style="font-size:3.20px">1000</text>
<text x="15.40" y="215.10" class="tl" text-anchor="end" style="font-size:3.60px">10<tspan dy="-1.60" style="font-size:2.62px">3</tspan></text>
<text x="15.40" y="202.16" class="tl" text-anchor="end" style="font-size:3.60px">10<tspan dy="-1.60" style="font-size:2.62px">4</tspan></text>
<text x="15.40" y="189.21" class="tl" text-anchor="end" style="font-size:3.60px">10<tspan dy="-1.60" style="font-size:2.62px">5</tspan></text>
<text x="15.40" y="176.27" class="tl" text-anchor="end" style="font-size:3.60px">10<tspan dy="-1.60" style="font-size:2.62px">6</tspan></text>
<text x="15.40" y="163.33" class="tl" text-anchor="end" style="font-size:3.60px">10<tspan dy="-1.60" style="font-size:2.62px">7</tspan></text>
<text x="15.40" y="150.39" class="tl" text-anchor="end" style="font-size:3.60px">10<tspan dy="-1.60" style="font-size:2.62px">8</tspan></text>
<text x="15.40" y="137.44" class="tl" text-anchor="end" style="font-size:3.60px">10<tspan dy="-1.60" style="font-size:2.62px">9</tspan></text>
<text x="15.40" y="124.50" class="tl" text-anchor="end" style="font-size:3.60px">10<tspan dy="-1.60" style="font-size:2.62px">10</tspan></text>
<text x="74.65" y="222.50" class="tl" text-anchor="middle" style="font-size:3.30px">Iteration</text>
<text transform="translate(6.90,166.90) rotate(-90)" class="tl" text-anchor="middle" style="font-size:3.90px">Average Best So-far</text>
<text x="74.65" y="119.30" class="tt" text-anchor="middle" style="font-size:4.05px">Hybrid Function 9 (N=5)</text>
<rect x="99.50" y="125.00" width="29.60" height="44.40" class="lg" style="stroke-width:0.80"/>
<line x1="102.40" y1="127.65" x2="113.00" y2="127.65" stroke="#ff4444" style="stroke-width:0.89"/>
<text x="114.10" y="128.80" class="lt" style="font-size:2.85px">EEFMHCA</text>
<line x1="102.40" y1="131.58" x2="113.00" y2="131.58" stroke="#4444ff" style="stroke-width:0.89"/>
<text x="114.10" y="132.73" class="lt" style="font-size:2.85px">EFMHCA</text>
<line x1="102.40" y1="135.51" x2="113.00" y2="135.51" stroke="#464646" style="stroke-width:0.89"/>
<text x="114.10" y="136.66" class="lt" style="font-size:2.85px">MCA</text>
<line x1="102.40" y1="139.44" x2="113.00" y2="139.44" stroke="#b0aa55" style="stroke-width:0.89"/>
<text x="114.10" y="140.59" class="lt" style="font-size:2.85px">BCA</text>
<line x1="102.40" y1="143.37" x2="113.00" y2="143.37" stroke="#4f90c8" style="stroke-width:0.89"/>
<text x="114.10" y="144.52" class="lt" style="font-size:2.85px">BSA</text>
<line x1="102.40" y1="147.30" x2="113.00" y2="147.30" stroke="#c07474" style="stroke-width:0.89"/>
<text x="114.10" y="148.45" class="lt" style="font-size:2.85px">CSA</text>
<line x1="102.40" y1="151.23" x2="113.00" y2="151.23" stroke="#3ee23e" style="stroke-width:0.89"/>
<text x="114.10" y="152.38" class="lt" style="font-size:2.85px">SOA</text>
<line x1="102.40" y1="155.16" x2="113.00" y2="155.16" stroke="#44f0f0" style="stroke-width:0.89"/>
<text x="114.10" y="156.31" class="lt" style="font-size:2.85px">WHO</text>
<line x1="102.40" y1="159.09" x2="113.00" y2="159.09" stroke="#ff55ff" style="stroke-width:0.89"/>
<text x="114.10" y="160.24" class="lt" style="font-size:2.85px">WOA</text>
<line x1="102.40" y1="163.02" x2="113.00" y2="163.02" stroke="#9cc29c" style="stroke-width:0.89"/>
<text x="114.10" y="164.17" class="lt" style="font-size:2.85px">DO</text>
<line x1="102.40" y1="166.95" x2="113.00" y2="166.95" stroke="#9a9a9a" style="stroke-width:0.89"/>
<text x="114.10" y="168.10" class="lt" style="font-size:2.85px">FHO</text>
<line x1="168.30" y1="198.56" x2="284.00" y2="198.56" class="mg"/>
<line x1="168.30" y1="190.59" x2="284.00" y2="190.59" class="mg"/>
<line x1="168.30" y1="184.93" x2="284.00" y2="184.93" class="mg"/>
<line x1="168.30" y1="180.54" x2="284.00" y2="180.54" class="mg"/>
<line x1="168.30" y1="176.95" x2="284.00" y2="176.95" class="mg"/>
<line x1="168.30" y1="173.92" x2="284.00" y2="173.92" class="mg"/>
<line x1="168.30" y1="171.29" x2="284.00" y2="171.29" class="mg"/>
<line x1="168.30" y1="168.97" x2="284.00" y2="168.97" class="mg"/>
<line x1="168.30" y1="153.26" x2="284.00" y2="153.26" class="mg"/>
<line x1="168.30" y1="145.29" x2="284.00" y2="145.29" class="mg"/>
<line x1="168.30" y1="139.63" x2="284.00" y2="139.63" class="mg"/>
<line x1="168.30" y1="135.24" x2="284.00" y2="135.24" class="mg"/>
<line x1="168.30" y1="131.65" x2="284.00" y2="131.65" class="mg"/>
<line x1="168.30" y1="128.62" x2="284.00" y2="128.62" class="mg"/>
<line x1="168.30" y1="125.99" x2="284.00" y2="125.99" class="mg"/>
<line x1="168.30" y1="123.67" x2="284.00" y2="123.67" class="mg"/>
<line x1="168.30" y1="166.90" x2="284.00" y2="166.90" class="g"/>
<line x1="179.87" y1="121.60" x2="179.87" y2="212.20" class="g"/>
<line x1="191.44" y1="121.60" x2="191.44" y2="212.20" class="g"/>
<line x1="203.01" y1="121.60" x2="203.01" y2="212.20" class="g"/>
<line x1="214.58" y1="121.60" x2="214.58" y2="212.20" class="g"/>
<line x1="226.15" y1="121.60" x2="226.15" y2="212.20" class="g"/>
<line x1="237.72" y1="121.60" x2="237.72" y2="212.20" class="g"/>
<line x1="249.29" y1="121.60" x2="249.29" y2="212.20" class="g"/>
<line x1="260.86" y1="121.60" x2="260.86" y2="212.20" class="g"/>
<line x1="272.43" y1="121.60" x2="272.43" y2="212.20" class="g"/>
<g>
<polyline points="168.4,186.0 170.0,187.5 180.0,188.2 226.0,188.6 284.0,189.0" stroke="#44f0f0" class="cv" style="stroke-width:1.05"/>
<polyline points="168.4,186.0 172.0,187.8 185.0,188.3 226.0,189.5 284.0,190.5" stroke="#b0aa55" class="cv" style="stroke-width:1.05"/>
<polyline points="168.4,186.5 172.0,188.5 200.0,189.5 284.0,190.1" stroke="#4f90c8" class="cv" style="stroke-width:1.05"/>
<polyline points="168.4,187.0 172.0,189.5 200.0,191.0 284.0,191.8" stroke="#9a9a9a" class="cv" style="stroke-width:1.05"/>
<polyline points="168.4,187.0 172.0,190.0 185.0,191.3 284.0,192.0" stroke="#ff55ff" class="cv" style="stroke-width:1.05"/>
<polyline points="168.4,187.0 171.0,190.0 180.0,191.2 284.0,192.3" stroke="#4444ff" class="cv" style="stroke-width:1.05"/>
<polyline points="168.4,187.0 172.0,190.2 185.0,191.5 284.0,192.5" stroke="#464646" class="cv" style="stroke-width:1.05"/>
<polyline points="168.4,187.0 172.0,190.0 200.0,191.5 284.0,192.8" stroke="#9cc29c" class="cv" style="stroke-width:1.05"/>
<polyline points="168.4,187.0 172.0,190.5 200.0,192.5 284.0,193.5" stroke="#c07474" class="cv" style="stroke-width:1.05"/>
<polyline points="168.4,186.5 172.0,190.5 200.0,192.5 284.0,194.2" stroke="#3ee23e" class="cv" style="stroke-width:1.05"/>
<polyline points="168.4,187.0 172.0,190.0 180.0,192.0 226.0,195.2 284.0,196.0" stroke="#ff4444" class="cv" style="stroke-width:1.05"/>
</g>
<path d="M179.87,212.20v-1.00M179.87,121.60v1.00M191.44,212.20v-1.00M191.44,121.60v1.00M203.01,212.20v-1.00M203.01,121.60v1.00M214.58,212.20v-1.00M214.58,121.60v1.00M226.15,212.20v-1.00M226.15,121.60v1.00M237.72,212.20v-1.00M237.72,121.60v1.00M249.29,212.20v-1.00M249.29,121.60v1.00M260.86,212.20v-1.00M260.86,121.60v1.00M272.43,212.20v-1.00M272.43,121.60v1.00M168.30,166.90h1.00M284.00,166.90h-1.00M168.30,198.56h0.80M284.00,198.56h-0.80M168.30,190.59h0.80M284.00,190.59h-0.80M168.30,184.93h0.80M284.00,184.93h-0.80M168.30,180.54h0.80M284.00,180.54h-0.80M168.30,176.95h0.80M284.00,176.95h-0.80M168.30,173.92h0.80M284.00,173.92h-0.80M168.30,171.29h0.80M284.00,171.29h-0.80M168.30,168.97h0.80M284.00,168.97h-0.80M168.30,153.26h0.80M284.00,153.26h-0.80M168.30,145.29h0.80M284.00,145.29h-0.80M168.30,139.63h0.80M284.00,139.63h-0.80M168.30,135.24h0.80M284.00,135.24h-0.80M168.30,131.65h0.80M284.00,131.65h-0.80M168.30,128.62h0.80M284.00,128.62h-0.80M168.30,125.99h0.80M284.00,125.99h-0.80M168.30,123.67h0.80M284.00,123.67h-0.80" class="tk" style="stroke-width:0.60"/>
<rect x="168.30" y="121.60" width="115.70" height="90.60" class="ax" style="stroke-width:0.90"/>
<text x="179.87" y="218.00" class="tl" text-anchor="middle" style="font-size:3.20px">100</text>
<text x="191.44" y="218.00" class="tl" text-anchor="middle" style="font-size:3.20px">200</text>
<text x="203.01" y="218.00" class="tl" text-anchor="middle" style="font-size:3.20px">300</text>
<text x="214.58" y="218.00" class="tl" text-anchor="middle" style="font-size:3.20px">400</text>
<text x="226.15" y="218.00" class="tl" text-anchor="middle" style="font-size:3.20px">500</text>
<text x="237.72" y="218.00" class="tl" text-anchor="middle" style="font-size:3.20px">600</text>
<text x="249.29" y="218.00" class="tl" text-anchor="middle" style="font-size:3.20px">700</text>
<text x="260.86" y="218.00" class="tl" text-anchor="middle" style="font-size:3.20px">800</text>
<text x="272.43" y="218.00" class="tl" text-anchor="middle" style="font-size:3.20px">900</text>
<text x="284.00" y="218.00" class="tl" text-anchor="middle" style="font-size:3.20px">1000</text>
<text x="167.00" y="215.10" class="tl" text-anchor="end" style="font-size:3.60px">10<tspan dy="-1.60" style="font-size:2.62px">2</tspan></text>
<text x="167.00" y="169.80" class="tl" text-anchor="end" style="font-size:3.60px">10<tspan dy="-1.60" style="font-size:2.62px">3</tspan></text>
<text x="167.00" y="124.50" class="tl" text-anchor="end" style="font-size:3.60px">10<tspan dy="-1.60" style="font-size:2.62px">4</tspan></text>
<text x="226.15" y="222.50" class="tl" text-anchor="middle" style="font-size:3.30px">Iteration</text>
<text transform="translate(158.50,166.90) rotate(-90)" class="tl" text-anchor="middle" style="font-size:3.90px">Average Best So-far</text>
<text x="226.15" y="119.30" class="tt" text-anchor="middle" style="font-size:4.05px">Hybrid Function 10 (N=6)</text>
<rect x="250.90" y="125.00" width="29.60" height="44.40" class="lg" style="stroke-width:0.80"/>
<line x1="253.80" y1="127.65" x2="264.40" y2="127.65" stroke="#ff4444" style="stroke-width:0.89"/>
<text x="265.50" y="128.80" class="lt" style="font-size:2.85px">EEFMHCA</text>
<line x1="253.80" y1="131.58" x2="264.40" y2="131.58" stroke="#4444ff" style="stroke-width:0.89"/>
<text x="265.50" y="132.73" class="lt" style="font-size:2.85px">EFMHCA</text>
<line x1="253.80" y1="135.51" x2="264.40" y2="135.51" stroke="#464646" style="stroke-width:0.89"/>
<text x="265.50" y="136.66" class="lt" style="font-size:2.85px">MCA</text>
<line x1="253.80" y1="139.44" x2="264.40" y2="139.44" stroke="#b0aa55" style="stroke-width:0.89"/>
<text x="265.50" y="140.59" class="lt" style="font-size:2.85px">BCA</text>
<line x1="253.80" y1="143.37" x2="264.40" y2="143.37" stroke="#4f90c8" style="stroke-width:0.89"/>
<text x="265.50" y="144.52" class="lt" style="font-size:2.85px">BSA</text>
<line x1="253.80" y1="147.30" x2="264.40" y2="147.30" stroke="#c07474" style="stroke-width:0.89"/>
<text x="265.50" y="148.45" class="lt" style="font-size:2.85px">CSA</text>
<line x1="253.80" y1="151.23" x2="264.40" y2="151.23" stroke="#3ee23e" style="stroke-width:0.89"/>
<text x="265.50" y="152.38" class="lt" style="font-size:2.85px">SOA</text>
<line x1="253.80" y1="155.16" x2="264.40" y2="155.16" stroke="#44f0f0" style="stroke-width:0.89"/>
<text x="265.50" y="156.31" class="lt" style="font-size:2.85px">WHO</text>
<line x1="253.80" y1="159.09" x2="264.40" y2="159.09" stroke="#ff55ff" style="stroke-width:0.89"/>
<text x="265.50" y="160.24" class="lt" style="font-size:2.85px">WOA</text>
<line x1="253.80" y1="163.02" x2="264.40" y2="163.02" stroke="#9cc29c" style="stroke-width:0.89"/>
<text x="265.50" y="164.17" class="lt" style="font-size:2.85px">DO</text>
<line x1="253.80" y1="166.95" x2="264.40" y2="166.95" stroke="#9a9a9a" style="stroke-width:0.89"/>
<text x="265.50" y="168.10" class="lt" style="font-size:2.85px">FHO</text>
<line x1="319.50" y1="198.56" x2="435.60" y2="198.56" class="mg"/>
<line x1="319.50" y1="190.59" x2="435.60" y2="190.59" class="mg"/>
<line x1="319.50" y1="184.93" x2="435.60" y2="184.93" class="mg"/>
<line x1="319.50" y1="180.54" x2="435.60" y2="180.54" class="mg"/>
<line x1="319.50" y1="176.95" x2="435.60" y2="176.95" class="mg"/>
<line x1="319.50" y1="173.92" x2="435.60" y2="173.92" class="mg"/>
<line x1="319.50" y1="171.29" x2="435.60" y2="171.29" class="mg"/>
<line x1="319.50" y1="168.97" x2="435.60" y2="168.97" class="mg"/>
<line x1="319.50" y1="153.26" x2="435.60" y2="153.26" class="mg"/>
<line x1="319.50" y1="145.29" x2="435.60" y2="145.29" class="mg"/>
<line x1="319.50" y1="139.63" x2="435.60" y2="139.63" class="mg"/>
<line x1="319.50" y1="135.24" x2="435.60" y2="135.24" class="mg"/>
<line x1="319.50" y1="131.65" x2="435.60" y2="131.65" class="mg"/>
<line x1="319.50" y1="128.62" x2="435.60" y2="128.62" class="mg"/>
<line x1="319.50" y1="125.99" x2="435.60" y2="125.99" class="mg"/>
<line x1="319.50" y1="123.67" x2="435.60" y2="123.67" class="mg"/>
<line x1="319.50" y1="166.90" x2="435.60" y2="166.90" class="g"/>
<line x1="331.11" y1="121.60" x2="331.11" y2="212.20" class="g"/>
<line x1="342.72" y1="121.60" x2="342.72" y2="212.20" class="g"/>
<line x1="354.33" y1="121.60" x2="354.33" y2="212.20" class="g"/>
<line x1="365.94" y1="121.60" x2="365.94" y2="212.20" class="g"/>
<line x1="377.55" y1="121.60" x2="377.55" y2="212.20" class="g"/>
<line x1="389.16" y1="121.60" x2="389.16" y2="212.20" class="g"/>
<line x1="400.77" y1="121.60" x2="400.77" y2="212.20" class="g"/>
<line x1="412.38" y1="121.60" x2="412.38" y2="212.20" class="g"/>
<line x1="423.99" y1="121.60" x2="423.99" y2="212.20" class="g"/>
<g>
<polyline points="319.6,191.0 322.0,191.6 435.6,192.2" stroke="#44f0f0" class="cv" style="stroke-width:1.05"/>
<polyline points="319.6,191.0 322.0,192.0 435.6,192.6" stroke="#4f90c8" class="cv" style="stroke-width:1.05"/>
<polyline points="319.6,191.2 323.0,192.3 435.6,192.8" stroke="#9cc29c" class="cv" style="stroke-width:1.05"/>
<polyline points="319.6,191.2 323.0,192.5 435.6,193.0" stroke="#b0aa55" class="cv" style="stroke-width:1.05"/>
<polyline points="319.6,191.3 323.0,192.8 435.6,193.3" stroke="#9a9a9a" class="cv" style="stroke-width:1.05"/>
<polyline points="319.6,191.3 323.0,193.0 435.6,193.5" stroke="#3ee23e" class="cv" style="stroke-width:1.05"/>
<polyline points="319.6,191.5 323.0,193.4 435.6,194.2" stroke="#c07474" class="cv" style="stroke-width:1.05"/>
<polyline points="319.6,191.5 323.0,193.6 380.0,194.4 435.6,195.0" stroke="#ff4444" class="cv" style="stroke-width:1.05"/>
<polyline points="319.6,191.5 323.0,193.2 435.6,193.6" stroke="#ff55ff" class="cv" style="stroke-width:1.05"/>
<polyline points="319.6,191.5 322.0,193.3 326.0,193.6 435.6,193.9" stroke="#4444ff" class="cv" style="stroke-width:1.05"/>
<polyline points="319.6,191.5 323.0,193.4 435.6,194.0" stroke="#464646" class="cv" style="stroke-width:1.05"/>
</g>
<path d="M331.11,212.20v-1.00M331.11,121.60v1.00M342.72,212.20v-1.00M342.72,121.60v1.00M354.33,212.20v-1.00M354.33,121.60v1.00M365.94,212.20v-1.00M365.94,121.60v1.00M377.55,212.20v-1.00M377.55,121.60v1.00M389.16,212.20v-1.00M389.16,121.60v1.00M400.77,212.20v-1.00M400.77,121.60v1.00M412.38,212.20v-1.00M412.38,121.60v1.00M423.99,212.20v-1.00M423.99,121.60v1.00M319.50,166.90h1.00M435.60,166.90h-1.00M319.50,198.56h0.80M435.60,198.56h-0.80M319.50,190.59h0.80M435.60,190.59h-0.80M319.50,184.93h0.80M435.60,184.93h-0.80M319.50,180.54h0.80M435.60,180.54h-0.80M319.50,176.95h0.80M435.60,176.95h-0.80M319.50,173.92h0.80M435.60,173.92h-0.80M319.50,171.29h0.80M435.60,171.29h-0.80M319.50,168.97h0.80M435.60,168.97h-0.80M319.50,153.26h0.80M435.60,153.26h-0.80M319.50,145.29h0.80M435.60,145.29h-0.80M319.50,139.63h0.80M435.60,139.63h-0.80M319.50,135.24h0.80M435.60,135.24h-0.80M319.50,131.65h0.80M435.60,131.65h-0.80M319.50,128.62h0.80M435.60,128.62h-0.80M319.50,125.99h0.80M435.60,125.99h-0.80M319.50,123.67h0.80M435.60,123.67h-0.80" class="tk" style="stroke-width:0.60"/>
<rect x="319.50" y="121.60" width="116.10" height="90.60" class="ax" style="stroke-width:0.90"/>
<text x="331.11" y="218.00" class="tl" text-anchor="middle" style="font-size:3.20px">100</text>
<text x="342.72" y="218.00" class="tl" text-anchor="middle" style="font-size:3.20px">200</text>
<text x="354.33" y="218.00" class="tl" text-anchor="middle" style="font-size:3.20px">300</text>
<text x="365.94" y="218.00" class="tl" text-anchor="middle" style="font-size:3.20px">400</text>
<text x="377.55" y="218.00" class="tl" text-anchor="middle" style="font-size:3.20px">500</text>
<text x="389.16" y="218.00" class="tl" text-anchor="middle" style="font-size:3.20px">600</text>
<text x="400.77" y="218.00" class="tl" text-anchor="middle" style="font-size:3.20px">700</text>
<text x="412.38" y="218.00" class="tl" text-anchor="middle" style="font-size:3.20px">800</text>
<text x="423.99" y="218.00" class="tl" text-anchor="middle" style="font-size:3.20px">900</text>
<text x="435.60" y="218.00" class="tl" text-anchor="middle" style="font-size:3.20px">1000</text>
<text x="318.20" y="215.10" class="tl" text-anchor="end" style="font-size:3.60px">10<tspan dy="-1.60" style="font-size:2.62px">2</tspan></text>
<text x="318.20" y="169.80" class="tl" text-anchor="end" style="font-size:3.60px">10<tspan dy="-1.60" style="font-size:2.62px">3</tspan></text>
<text x="318.20" y="124.50" class="tl" text-anchor="end" style="font-size:3.60px">10<tspan dy="-1.60" style="font-size:2.62px">4</tspan></text>
<text x="377.55" y="222.50" class="tl" text-anchor="middle" style="font-size:3.30px">Iteration</text>
<text transform="translate(309.70,166.90) rotate(-90)" class="tl" text-anchor="middle" style="font-size:3.90px">Average Best So-far</text>
<text x="377.55" y="119.30" class="tt" text-anchor="middle" style="font-size:4.05px">Composition Function 1 (N=3)</text>
<rect x="402.50" y="125.00" width="29.60" height="44.40" class="lg" style="stroke-width:0.80"/>
<line x1="405.40" y1="127.65" x2="416.00" y2="127.65" stroke="#ff4444" style="stroke-width:0.89"/>
<text x="417.10" y="128.80" class="lt" style="font-size:2.85px">EEFMHCA</text>
<line x1="405.40" y1="131.58" x2="416.00" y2="131.58" stroke="#4444ff" style="stroke-width:0.89"/>
<text x="417.10" y="132.73" class="lt" style="font-size:2.85px">EFMHCA</text>
<line x1="405.40" y1="135.51" x2="416.00" y2="135.51" stroke="#464646" style="stroke-width:0.89"/>
<text x="417.10" y="136.66" class="lt" style="font-size:2.85px">MCA</text>
<line x1="405.40" y1="139.44" x2="416.00" y2="139.44" stroke="#b0aa55" style="stroke-width:0.89"/>
<text x="417.10" y="140.59" class="lt" style="font-size:2.85px">BCA</text>
<line x1="405.40" y1="143.37" x2="416.00" y2="143.37" stroke="#4f90c8" style="stroke-width:0.89"/>
<text x="417.10" y="144.52" class="lt" style="font-size:2.85px">BSA</text>
<line x1="405.40" y1="147.30" x2="416.00" y2="147.30" stroke="#c07474" style="stroke-width:0.89"/>
<text x="417.10" y="148.45" class="lt" style="font-size:2.85px">CSA</text>
<line x1="405.40" y1="151.23" x2="416.00" y2="151.23" stroke="#3ee23e" style="stroke-width:0.89"/>
<text x="417.10" y="152.38" class="lt" style="font-size:2.85px">SOA</text>
<line x1="405.40" y1="155.16" x2="416.00" y2="155.16" stroke="#44f0f0" style="stroke-width:0.89"/>
<text x="417.10" y="156.31" class="lt" style="font-size:2.85px">WHO</text>
<line x1="405.40" y1="159.09" x2="416.00" y2="159.09" stroke="#ff55ff" style="stroke-width:0.89"/>
<text x="417.10" y="160.24" class="lt" style="font-size:2.85px">WOA</text>
<line x1="405.40" y1="163.02" x2="416.00" y2="163.02" stroke="#9cc29c" style="stroke-width:0.89"/>
<text x="417.10" y="164.17" class="lt" style="font-size:2.85px">DO</text>
<line x1="405.40" y1="166.95" x2="416.00" y2="166.95" stroke="#9a9a9a" style="stroke-width:0.89"/>
<text x="417.10" y="168.10" class="lt" style="font-size:2.85px">FHO</text>
<line x1="16.70" y1="311.56" x2="132.60" y2="311.56" class="mg"/>
<line x1="16.70" y1="303.59" x2="132.60" y2="303.59" class="mg"/>
<line x1="16.70" y1="297.93" x2="132.60" y2="297.93" class="mg"/>
<line x1="16.70" y1="293.54" x2="132.60" y2="293.54" class="mg"/>
<line x1="16.70" y1="289.95" x2="132.60" y2="289.95" class="mg"/>
<line x1="16.70" y1="286.92" x2="132.60" y2="286.92" class="mg"/>
<line x1="16.70" y1="284.29" x2="132.60" y2="284.29" class="mg"/>
<line x1="16.70" y1="281.97" x2="132.60" y2="281.97" class="mg"/>
<line x1="16.70" y1="266.26" x2="132.60" y2="266.26" class="mg"/>
<line x1="16.70" y1="258.29" x2="132.60" y2="258.29" class="mg"/>
<line x1="16.70" y1="252.63" x2="132.60" y2="252.63" class="mg"/>
<line x1="16.70" y1="248.24" x2="132.60" y2="248.24" class="mg"/>
<line x1="16.70" y1="244.65" x2="132.60" y2="244.65" class="mg"/>
<line x1="16.70" y1="241.62" x2="132.60" y2="241.62" class="mg"/>
<line x1="16.70" y1="238.99" x2="132.60" y2="238.99" class="mg"/>
<line x1="16.70" y1="236.67" x2="132.60" y2="236.67" class="mg"/>
<line x1="16.70" y1="279.90" x2="132.60" y2="279.90" class="g"/>
<line x1="28.29" y1="234.60" x2="28.29" y2="325.20" class="g"/>
<line x1="39.88" y1="234.60" x2="39.88" y2="325.20" class="g"/>
<line x1="51.47" y1="234.60" x2="51.47" y2="325.20" class="g"/>
<line x1="63.06" y1="234.60" x2="63.06" y2="325.20" class="g"/>
<line x1="74.65" y1="234.60" x2="74.65" y2="325.20" class="g"/>
<line x1="86.24" y1="234.60" x2="86.24" y2="325.20" class="g"/>
<line x1="97.83" y1="234.60" x2="97.83" y2="325.20" class="g"/>
<line x1="109.42" y1="234.60" x2="109.42" y2="325.20" class="g"/>
<line x1="121.01" y1="234.60" x2="121.01" y2="325.20" class="g"/>
<g>
<polyline points="16.9,276.5 18.0,277.8 75.0,278.4 132.6,279.0" stroke="#44f0f0" class="cv" style="stroke-width:1.05"/>
<polyline points="16.9,276.5 18.0,278.5 28.6,281.3 75.0,282.5 132.6,283.5" stroke="#4f90c8" class="cv" style="stroke-width:1.05"/>
<polyline points="16.9,276.5 18.0,279.0 40.0,282.0 75.0,283.0 132.6,284.5" stroke="#9cc29c" class="cv" style="stroke-width:1.05"/>
<polyline points="16.9,276.5 18.0,278.5 20.4,280.2 45.0,282.0 75.0,283.6 132.6,286.3" stroke="#ff55ff" class="cv" style="stroke-width:1.05"/>
<polyline points="16.9,276.5 17.7,278.1 27.9,278.8 29.9,280.9 32.0,283.6 35.4,284.2 50.0,285.8 74.7,287.6 93.0,288.5 118.0,290.2 132.6,290.5" stroke="#b0aa55" class="cv" style="stroke-width:1.05"/>
<polyline points="16.9,276.5 17.7,279.5 23.1,283.6 28.6,285.2 42.1,287.6 74.7,290.2 132.6,291.3" stroke="#464646" class="cv" style="stroke-width:1.05"/>
<polyline points="16.9,276.5 18.0,280.0 23.1,284.9 42.1,289.0 74.7,293.1 100.0,294.0 132.6,295.5" stroke="#9a9a9a" class="cv" style="stroke-width:1.05"/>
<polyline points="16.9,276.5 18.0,282.0 19.0,286.0 21.0,289.0 23.1,290.3 28.6,291.0 75.0,291.2 132.6,291.5" stroke="#4444ff" class="cv" style="stroke-width:1.05"/>
<polyline points="16.9,276.5 19.1,282.5 23.1,290.6 28.6,295.5 35.4,299.6 42.1,302.0 55.7,304.3 74.7,305.9 132.6,306.9" stroke="#c07474" class="cv" style="stroke-width:1.05"/>
<polyline points="16.9,276.5 19.1,282.2 23.1,290.3 28.6,295.1 35.4,299.2 42.1,301.5 55.7,303.9 74.7,305.5 132.6,306.6" stroke="#3ee23e" class="cv" style="stroke-width:1.05"/>
<polyline points="16.9,276.5 17.7,280.2 19.0,284.5 21.8,291.7 25.0,296.5 28.6,301.2 35.4,304.6 42.1,306.0 55.7,308.0 74.7,308.7 132.6,308.9" stroke="#ff4444" class="cv" style="stroke-width:1.05"/>
</g>
<path d="M28.29,325.20v-1.00M28.29,234.60v1.00M39.88,325.20v-1.00M39.88,234.60v1.00M51.47,325.20v-1.00M51.47,234.60v1.00M63.06,325.20v-1.00M63.06,234.60v1.00M74.65,325.20v-1.00M74.65,234.60v1.00M86.24,325.20v-1.00M86.24,234.60v1.00M97.83,325.20v-1.00M97.83,234.60v1.00M109.42,325.20v-1.00M109.42,234.60v1.00M121.01,325.20v-1.00M121.01,234.60v1.00M16.70,279.90h1.00M132.60,279.90h-1.00M16.70,311.56h0.80M132.60,311.56h-0.80M16.70,303.59h0.80M132.60,303.59h-0.80M16.70,297.93h0.80M132.60,297.93h-0.80M16.70,293.54h0.80M132.60,293.54h-0.80M16.70,289.95h0.80M132.60,289.95h-0.80M16.70,286.92h0.80M132.60,286.92h-0.80M16.70,284.29h0.80M132.60,284.29h-0.80M16.70,281.97h0.80M132.60,281.97h-0.80M16.70,266.26h0.80M132.60,266.26h-0.80M16.70,258.29h0.80M132.60,258.29h-0.80M16.70,252.63h0.80M132.60,252.63h-0.80M16.70,248.24h0.80M132.60,248.24h-0.80M16.70,244.65h0.80M132.60,244.65h-0.80M16.70,241.62h0.80M132.60,241.62h-0.80M16.70,238.99h0.80M132.60,238.99h-0.80M16.70,236.67h0.80M132.60,236.67h-0.80" class="tk" style="stroke-width:0.60"/>
<rect x="16.70" y="234.60" width="115.90" height="90.60" class="ax" style="stroke-width:0.90"/>
<text x="28.29" y="330.00" class="tl" text-anchor="middle" style="font-size:3.20px">100</text>
<text x="39.88" y="330.00" class="tl" text-anchor="middle" style="font-size:3.20px">200</text>
<text x="51.47" y="330.00" class="tl" text-anchor="middle" style="font-size:3.20px">300</text>
<text x="63.06" y="330.00" class="tl" text-anchor="middle" style="font-size:3.20px">400</text>
<text x="74.65" y="330.00" class="tl" text-anchor="middle" style="font-size:3.20px">500</text>
<text x="86.24" y="330.00" class="tl" text-anchor="middle" style="font-size:3.20px">600</text>
<text x="97.83" y="330.00" class="tl" text-anchor="middle" style="font-size:3.20px">700</text>
<text x="109.42" y="330.00" class="tl" text-anchor="middle" style="font-size:3.20px">800</text>
<text x="121.01" y="330.00" class="tl" text-anchor="middle" style="font-size:3.20px">900</text>
<text x="132.60" y="330.00" class="tl" text-anchor="middle" style="font-size:3.20px">1000</text>
<text x="15.40" y="328.10" class="tl" text-anchor="end" style="font-size:3.60px">10<tspan dy="-1.60" style="font-size:2.62px">2</tspan></text>
<text x="15.40" y="282.80" class="tl" text-anchor="end" style="font-size:3.60px">10<tspan dy="-1.60" style="font-size:2.62px">3</tspan></text>
<text x="15.40" y="237.50" class="tl" text-anchor="end" style="font-size:3.60px">10<tspan dy="-1.60" style="font-size:2.62px">4</tspan></text>
<text x="74.65" y="335.50" class="tl" text-anchor="middle" style="font-size:3.30px">Iteration</text>
<text transform="translate(6.90,279.90) rotate(-90)" class="tl" text-anchor="middle" style="font-size:3.90px">Average Best So-far</text>
<text x="74.65" y="232.30" class="tt" text-anchor="middle" style="font-size:4.05px">Composition Function 2 (N=3)</text>
<rect x="99.50" y="238.00" width="29.60" height="44.40" class="lg" style="stroke-width:0.80"/>
<line x1="102.40" y1="240.65" x2="113.00" y2="240.65" stroke="#ff4444" style="stroke-width:0.89"/>
<text x="114.10" y="241.80" class="lt" style="font-size:2.85px">EEFMHCA</text>
<line x1="102.40" y1="244.58" x2="113.00" y2="244.58" stroke="#4444ff" style="stroke-width:0.89"/>
<text x="114.10" y="245.73" class="lt" style="font-size:2.85px">EFMHCA</text>
<line x1="102.40" y1="248.51" x2="113.00" y2="248.51" stroke="#464646" style="stroke-width:0.89"/>
<text x="114.10" y="249.66" class="lt" style="font-size:2.85px">MCA</text>
<line x1="102.40" y1="252.44" x2="113.00" y2="252.44" stroke="#b0aa55" style="stroke-width:0.89"/>
<text x="114.10" y="253.59" class="lt" style="font-size:2.85px">BCA</text>
<line x1="102.40" y1="256.37" x2="113.00" y2="256.37" stroke="#4f90c8" style="stroke-width:0.89"/>
<text x="114.10" y="257.52" class="lt" style="font-size:2.85px">BSA</text>
<line x1="102.40" y1="260.30" x2="113.00" y2="260.30" stroke="#c07474" style="stroke-width:0.89"/>
<text x="114.10" y="261.45" class="lt" style="font-size:2.85px">CSA</text>
<line x1="102.40" y1="264.23" x2="113.00" y2="264.23" stroke="#3ee23e" style="stroke-width:0.89"/>
<text x="114.10" y="265.38" class="lt" style="font-size:2.85px">SOA</text>
<line x1="102.40" y1="268.16" x2="113.00" y2="268.16" stroke="#44f0f0" style="stroke-width:0.89"/>
<text x="114.10" y="269.31" class="lt" style="font-size:2.85px">WHO</text>
<line x1="102.40" y1="272.09" x2="113.00" y2="272.09" stroke="#ff55ff" style="stroke-width:0.89"/>
<text x="114.10" y="273.24" class="lt" style="font-size:2.85px">WOA</text>
<line x1="102.40" y1="276.02" x2="113.00" y2="276.02" stroke="#9cc29c" style="stroke-width:0.89"/>
<text x="114.10" y="277.17" class="lt" style="font-size:2.85px">DO</text>
<line x1="102.40" y1="279.95" x2="113.00" y2="279.95" stroke="#9a9a9a" style="stroke-width:0.89"/>
<text x="114.10" y="281.10" class="lt" style="font-size:2.85px">FHO</text>
<line x1="168.30" y1="311.56" x2="284.00" y2="311.56" class="mg"/>
<line x1="168.30" y1="303.59" x2="284.00" y2="303.59" class="mg"/>
<line x1="168.30" y1="297.93" x2="284.00" y2="297.93" class="mg"/>
<line x1="168.30" y1="293.54" x2="284.00" y2="293.54" class="mg"/>
<line x1="168.30" y1="289.95" x2="284.00" y2="289.95" class="mg"/>
<line x1="168.30" y1="286.92" x2="284.00" y2="286.92" class="mg"/>
<line x1="168.30" y1="284.29" x2="284.00" y2="284.29" class="mg"/>
<line x1="168.30" y1="281.97" x2="284.00" y2="281.97" class="mg"/>
<line x1="168.30" y1="266.26" x2="284.00" y2="266.26" class="mg"/>
<line x1="168.30" y1="258.29" x2="284.00" y2="258.29" class="mg"/>
<line x1="168.30" y1="252.63" x2="284.00" y2="252.63" class="mg"/>
<line x1="168.30" y1="248.24" x2="284.00" y2="248.24" class="mg"/>
<line x1="168.30" y1="244.65" x2="284.00" y2="244.65" class="mg"/>
<line x1="168.30" y1="241.62" x2="284.00" y2="241.62" class="mg"/>
<line x1="168.30" y1="238.99" x2="284.00" y2="238.99" class="mg"/>
<line x1="168.30" y1="236.67" x2="284.00" y2="236.67" class="mg"/>
<line x1="168.30" y1="279.90" x2="284.00" y2="279.90" class="g"/>
<line x1="179.87" y1="234.60" x2="179.87" y2="325.20" class="g"/>
<line x1="191.44" y1="234.60" x2="191.44" y2="325.20" class="g"/>
<line x1="203.01" y1="234.60" x2="203.01" y2="325.20" class="g"/>
<line x1="214.58" y1="234.60" x2="214.58" y2="325.20" class="g"/>
<line x1="226.15" y1="234.60" x2="226.15" y2="325.20" class="g"/>
<line x1="237.72" y1="234.60" x2="237.72" y2="325.20" class="g"/>
<line x1="249.29" y1="234.60" x2="249.29" y2="325.20" class="g"/>
<line x1="260.86" y1="234.60" x2="260.86" y2="325.20" class="g"/>
<line x1="272.43" y1="234.60" x2="272.43" y2="325.20" class="g"/>
<g>
<polyline points="168.4,300.0 172.0,300.3 226.0,300.5 284.0,300.3" stroke="#4444ff" class="cv" style="stroke-width:1.05"/>
<polyline points="168.4,300.5 172.0,300.5 226.0,300.5 284.0,300.2" stroke="#44f0f0" class="cv" style="stroke-width:1.05"/>
<polyline points="168.4,300.5 172.0,301.0 226.0,301.0 284.0,300.8" stroke="#4f90c8" class="cv" style="stroke-width:1.05"/>
<polyline points="168.4,300.5 172.0,301.5 226.0,301.5 284.0,301.2" stroke="#ff55ff" class="cv" style="stroke-width:1.05"/>
<polyline points="168.4,300.0 172.0,302.0 226.0,302.5 284.0,302.5" stroke="#b0aa55" class="cv" style="stroke-width:1.05"/>
<polyline points="168.4,300.5 172.0,302.0 226.0,302.8 284.0,303.0" stroke="#9cc29c" class="cv" style="stroke-width:1.05"/>
<polyline points="168.4,300.5 172.0,302.5 226.0,303.3 284.0,303.5" stroke="#9a9a9a" class="cv" style="stroke-width:1.05"/>
<polyline points="168.4,300.5 172.0,302.5 226.0,303.5 284.0,304.0" stroke="#c07474" class="cv" style="stroke-width:1.05"/>
<polyline points="168.4,301.0 172.0,303.0 226.0,303.8 284.0,304.2" stroke="#464646" class="cv" style="stroke-width:1.05"/>
<polyline points="168.4,301.0 172.0,303.0 226.0,304.0 284.0,305.0" stroke="#ff4444" class="cv" style="stroke-width:1.05"/>
<polyline points="168.4,297.0 170.0,298.5 175.0,300.5 226.0,302.5 284.0,302.5" stroke="#3ee23e" class="cv" style="stroke-width:1.05"/>
</g>
<path d="M179.87,325.20v-1.00M179.87,234.60v1.00M191.44,325.20v-1.00M191.44,234.60v1.00M203.01,325.20v-1.00M203.01,234.60v1.00M214.58,325.20v-1.00M214.58,234.60v1.00M226.15,325.20v-1.00M226.15,234.60v1.00M237.72,325.20v-1.00M237.72,234.60v1.00M249.29,325.20v-1.00M249.29,234.60v1.00M260.86,325.20v-1.00M260.86,234.60v1.00M272.43,325.20v-1.00M272.43,234.60v1.00M168.30,279.90h1.00M284.00,279.90h-1.00M168.30,311.56h0.80M284.00,311.56h-0.80M168.30,303.59h0.80M284.00,303.59h-0.80M168.30,297.93h0.80M284.00,297.93h-0.80M168.30,293.54h0.80M284.00,293.54h-0.80M168.30,289.95h0.80M284.00,289.95h-0.80M168.30,286.92h0.80M284.00,286.92h-0.80M168.30,284.29h0.80M284.00,284.29h-0.80M168.30,281.97h0.80M284.00,281.97h-0.80M168.30,266.26h0.80M284.00,266.26h-0.80M168.30,258.29h0.80M284.00,258.29h-0.80M168.30,252.63h0.80M284.00,252.63h-0.80M168.30,248.24h0.80M284.00,248.24h-0.80M168.30,244.65h0.80M284.00,244.65h-0.80M168.30,241.62h0.80M284.00,241.62h-0.80M168.30,238.99h0.80M284.00,238.99h-0.80M168.30,236.67h0.80M284.00,236.67h-0.80" class="tk" style="stroke-width:0.60"/>
<rect x="168.30" y="234.60" width="115.70" height="90.60" class="ax" style="stroke-width:0.90"/>
<text x="179.87" y="330.00" class="tl" text-anchor="middle" style="font-size:3.20px">100</text>
<text x="191.44" y="330.00" class="tl" text-anchor="middle" style="font-size:3.20px">200</text>
<text x="203.01" y="330.00" class="tl" text-anchor="middle" style="font-size:3.20px">300</text>
<text x="214.58" y="330.00" class="tl" text-anchor="middle" style="font-size:3.20px">400</text>
<text x="226.15" y="330.00" class="tl" text-anchor="middle" style="font-size:3.20px">500</text>
<text x="237.72" y="330.00" class="tl" text-anchor="middle" style="font-size:3.20px">600</text>
<text x="249.29" y="330.00" class="tl" text-anchor="middle" style="font-size:3.20px">700</text>
<text x="260.86" y="330.00" class="tl" text-anchor="middle" style="font-size:3.20px">800</text>
<text x="272.43" y="330.00" class="tl" text-anchor="middle" style="font-size:3.20px">900</text>
<text x="284.00" y="330.00" class="tl" text-anchor="middle" style="font-size:3.20px">1000</text>
<text x="167.00" y="328.10" class="tl" text-anchor="end" style="font-size:3.60px">10<tspan dy="-1.60" style="font-size:2.62px">2</tspan></text>
<text x="167.00" y="282.80" class="tl" text-anchor="end" style="font-size:3.60px">10<tspan dy="-1.60" style="font-size:2.62px">3</tspan></text>
<text x="167.00" y="237.50" class="tl" text-anchor="end" style="font-size:3.60px">10<tspan dy="-1.60" style="font-size:2.62px">4</tspan></text>
<text x="226.15" y="335.50" class="tl" text-anchor="middle" style="font-size:3.30px">Iteration</text>
<text transform="translate(158.50,279.90) rotate(-90)" class="tl" text-anchor="middle" style="font-size:3.90px">Average Best So-far</text>
<text x="226.15" y="232.30" class="tt" text-anchor="middle" style="font-size:4.05px">Composition Function 3 (N=4)</text>
<rect x="250.90" y="238.00" width="29.60" height="44.40" class="lg" style="stroke-width:0.80"/>
<line x1="253.80" y1="240.65" x2="264.40" y2="240.65" stroke="#ff4444" style="stroke-width:0.89"/>
<text x="265.50" y="241.80" class="lt" style="font-size:2.85px">EEFMHCA</text>
<line x1="253.80" y1="244.58" x2="264.40" y2="244.58" stroke="#4444ff" style="stroke-width:0.89"/>
<text x="265.50" y="245.73" class="lt" style="font-size:2.85px">EFMHCA</text>
<line x1="253.80" y1="248.51" x2="264.40" y2="248.51" stroke="#464646" style="stroke-width:0.89"/>
<text x="265.50" y="249.66" class="lt" style="font-size:2.85px">MCA</text>
<line x1="253.80" y1="252.44" x2="264.40" y2="252.44" stroke="#b0aa55" style="stroke-width:0.89"/>
<text x="265.50" y="253.59" class="lt" style="font-size:2.85px">BCA</text>
<line x1="253.80" y1="256.37" x2="264.40" y2="256.37" stroke="#4f90c8" style="stroke-width:0.89"/>
<text x="265.50" y="257.52" class="lt" style="font-size:2.85px">BSA</text>
<line x1="253.80" y1="260.30" x2="264.40" y2="260.30" stroke="#c07474" style="stroke-width:0.89"/>
<text x="265.50" y="261.45" class="lt" style="font-size:2.85px">CSA</text>
<line x1="253.80" y1="264.23" x2="264.40" y2="264.23" stroke="#3ee23e" style="stroke-width:0.89"/>
<text x="265.50" y="265.38" class="lt" style="font-size:2.85px">SOA</text>
<line x1="253.80" y1="268.16" x2="264.40" y2="268.16" stroke="#44f0f0" style="stroke-width:0.89"/>
<text x="265.50" y="269.31" class="lt" style="font-size:2.85px">WHO</text>
<line x1="253.80" y1="272.09" x2="264.40" y2="272.09" stroke="#ff55ff" style="stroke-width:0.89"/>
<text x="265.50" y="273.24" class="lt" style="font-size:2.85px">WOA</text>
<line x1="253.80" y1="276.02" x2="264.40" y2="276.02" stroke="#9cc29c" style="stroke-width:0.89"/>
<text x="265.50" y="277.17" class="lt" style="font-size:2.85px">DO</text>
<line x1="253.80" y1="279.95" x2="264.40" y2="279.95" stroke="#9a9a9a" style="stroke-width:0.89"/>
<text x="265.50" y="281.10" class="lt" style="font-size:2.85px">FHO</text>
<line x1="319.50" y1="311.56" x2="435.60" y2="311.56" class="mg"/>
<line x1="319.50" y1="303.59" x2="435.60" y2="303.59" class="mg"/>
<line x1="319.50" y1="297.93" x2="435.60" y2="297.93" class="mg"/>
<line x1="319.50" y1="293.54" x2="435.60" y2="293.54" class="mg"/>
<line x1="319.50" y1="289.95" x2="435.60" y2="289.95" class="mg"/>
<line x1="319.50" y1="286.92" x2="435.60" y2="286.92" class="mg"/>
<line x1="319.50" y1="284.29" x2="435.60" y2="284.29" class="mg"/>
<line x1="319.50" y1="281.97" x2="435.60" y2="281.97" class="mg"/>
<line x1="319.50" y1="266.26" x2="435.60" y2="266.26" class="mg"/>
<line x1="319.50" y1="258.29" x2="435.60" y2="258.29" class="mg"/>
<line x1="319.50" y1="252.63" x2="435.60" y2="252.63" class="mg"/>
<line x1="319.50" y1="248.24" x2="435.60" y2="248.24" class="mg"/>
<line x1="319.50" y1="244.65" x2="435.60" y2="244.65" class="mg"/>
<line x1="319.50" y1="241.62" x2="435.60" y2="241.62" class="mg"/>
<line x1="319.50" y1="238.99" x2="435.60" y2="238.99" class="mg"/>
<line x1="319.50" y1="236.67" x2="435.60" y2="236.67" class="mg"/>
<line x1="319.50" y1="279.90" x2="435.60" y2="279.90" class="g"/>
<line x1="331.11" y1="234.60" x2="331.11" y2="325.20" class="g"/>
<line x1="342.72" y1="234.60" x2="342.72" y2="325.20" class="g"/>
<line x1="354.33" y1="234.60" x2="354.33" y2="325.20" class="g"/>
<line x1="365.94" y1="234.60" x2="365.94" y2="325.20" class="g"/>
<line x1="377.55" y1="234.60" x2="377.55" y2="325.20" class="g"/>
<line x1="389.16" y1="234.60" x2="389.16" y2="325.20" class="g"/>
<line x1="400.77" y1="234.60" x2="400.77" y2="325.20" class="g"/>
<line x1="412.38" y1="234.60" x2="412.38" y2="325.20" class="g"/>
<line x1="423.99" y1="234.60" x2="423.99" y2="325.20" class="g"/>
<g>
<polyline points="319.6,296.0 323.0,299.0 376.0,299.3 435.6,299.3" stroke="#44f0f0" class="cv" style="stroke-width:1.05"/>
<polyline points="319.6,296.0 323.0,299.3 376.0,299.6 435.6,299.6" stroke="#4f90c8" class="cv" style="stroke-width:1.05"/>
<polyline points="319.6,296.5 323.0,299.8 376.0,300.3 435.6,300.4" stroke="#ff55ff" class="cv" style="stroke-width:1.05"/>
<polyline points="319.6,297.0 322.0,300.0 376.0,300.5 435.6,300.8" stroke="#4444ff" class="cv" style="stroke-width:1.05"/>
<polyline points="319.6,297.0 323.0,301.0 376.0,301.5 435.6,302.0" stroke="#9cc29c" class="cv" style="stroke-width:1.05"/>
<polyline points="319.6,297.0 323.0,301.5 376.0,302.0 435.6,302.5" stroke="#9a9a9a" class="cv" style="stroke-width:1.05"/>
<polyline points="319.6,297.0 323.0,302.0 376.0,302.8 435.6,303.0" stroke="#c07474" class="cv" style="stroke-width:1.05"/>
<polyline points="319.6,297.5 323.0,302.0 376.0,303.0 435.6,303.3" stroke="#464646" class="cv" style="stroke-width:1.05"/>
<polyline points="319.6,297.5 322.0,302.0 330.0,303.0 435.6,303.5" stroke="#ff4444" class="cv" style="stroke-width:1.05"/>
<polyline points="319.6,295.0 323.0,299.0 376.0,300.6 435.6,301.8" stroke="#3ee23e" class="cv" style="stroke-width:1.05"/>
<polyline points="319.6,294.5 330.0,295.8 342.0,296.8 348.0,299.2 435.6,299.8" stroke="#b0aa55" class="cv" style="stroke-width:1.05"/>
</g>
<path d="M331.11,325.20v-1.00M331.11,234.60v1.00M342.72,325.20v-1.00M342.72,234.60v1.00M354.33,325.20v-1.00M354.33,234.60v1.00M365.94,325.20v-1.00M365.94,234.60v1.00M377.55,325.20v-1.00M377.55,234.60v1.00M389.16,325.20v-1.00M389.16,234.60v1.00M400.77,325.20v-1.00M400.77,234.60v1.00M412.38,325.20v-1.00M412.38,234.60v1.00M423.99,325.20v-1.00M423.99,234.60v1.00M319.50,279.90h1.00M435.60,279.90h-1.00M319.50,311.56h0.80M435.60,311.56h-0.80M319.50,303.59h0.80M435.60,303.59h-0.80M319.50,297.93h0.80M435.60,297.93h-0.80M319.50,293.54h0.80M435.60,293.54h-0.80M319.50,289.95h0.80M435.60,289.95h-0.80M319.50,286.92h0.80M435.60,286.92h-0.80M319.50,284.29h0.80M435.60,284.29h-0.80M319.50,281.97h0.80M435.60,281.97h-0.80M319.50,266.26h0.80M435.60,266.26h-0.80M319.50,258.29h0.80M435.60,258.29h-0.80M319.50,252.63h0.80M435.60,252.63h-0.80M319.50,248.24h0.80M435.60,248.24h-0.80M319.50,244.65h0.80M435.60,244.65h-0.80M319.50,241.62h0.80M435.60,241.62h-0.80M319.50,238.99h0.80M435.60,238.99h-0.80M319.50,236.67h0.80M435.60,236.67h-0.80" class="tk" style="stroke-width:0.60"/>
<rect x="319.50" y="234.60" width="116.10" height="90.60" class="ax" style="stroke-width:0.90"/>
<text x="331.11" y="330.00" class="tl" text-anchor="middle" style="font-size:3.20px">100</text>
<text x="342.72" y="330.00" class="tl" text-anchor="middle" style="font-size:3.20px">200</text>
<text x="354.33" y="330.00" class="tl" text-anchor="middle" style="font-size:3.20px">300</text>
<text x="365.94" y="330.00" class="tl" text-anchor="middle" style="font-size:3.20px">400</text>
<text x="377.55" y="330.00" class="tl" text-anchor="middle" style="font-size:3.20px">500</text>
<text x="389.16" y="330.00" class="tl" text-anchor="middle" style="font-size:3.20px">600</text>
<text x="400.77" y="330.00" class="tl" text-anchor="middle" style="font-size:3.20px">700</text>
<text x="412.38" y="330.00" class="tl" text-anchor="middle" style="font-size:3.20px">800</text>
<text x="423.99" y="330.00" class="tl" text-anchor="middle" style="font-size:3.20px">900</text>
<text x="435.60" y="330.00" class="tl" text-anchor="middle" style="font-size:3.20px">1000</text>
<text x="318.20" y="328.10" class="tl" text-anchor="end" style="font-size:3.60px">10<tspan dy="-1.60" style="font-size:2.62px">2</tspan></text>
<text x="318.20" y="282.80" class="tl" text-anchor="end" style="font-size:3.60px">10<tspan dy="-1.60" style="font-size:2.62px">3</tspan></text>
<text x="318.20" y="237.50" class="tl" text-anchor="end" style="font-size:3.60px">10<tspan dy="-1.60" style="font-size:2.62px">4</tspan></text>
<text x="377.55" y="335.50" class="tl" text-anchor="middle" style="font-size:3.30px">Iteration</text>
<text transform="translate(309.70,279.90) rotate(-90)" class="tl" text-anchor="middle" style="font-size:3.90px">Average Best So-far</text>
<text x="377.55" y="232.30" class="tt" text-anchor="middle" style="font-size:4.05px">Composition Function 4 (N=4)</text>
<rect x="402.50" y="238.00" width="29.60" height="44.40" class="lg" style="stroke-width:0.80"/>
<line x1="405.40" y1="240.65" x2="416.00" y2="240.65" stroke="#ff4444" style="stroke-width:0.89"/>
<text x="417.10" y="241.80" class="lt" style="font-size:2.85px">EEFMHCA</text>
<line x1="405.40" y1="244.58" x2="416.00" y2="244.58" stroke="#4444ff" style="stroke-width:0.89"/>
<text x="417.10" y="245.73" class="lt" style="font-size:2.85px">EFMHCA</text>
<line x1="405.40" y1="248.51" x2="416.00" y2="248.51" stroke="#464646" style="stroke-width:0.89"/>
<text x="417.10" y="249.66" class="lt" style="font-size:2.85px">MCA</text>
<line x1="405.40" y1="252.44" x2="416.00" y2="252.44" stroke="#b0aa55" style="stroke-width:0.89"/>
<text x="417.10" y="253.59" class="lt" style="font-size:2.85px">BCA</text>
<line x1="405.40" y1="256.37" x2="416.00" y2="256.37" stroke="#4f90c8" style="stroke-width:0.89"/>
<text x="417.10" y="257.52" class="lt" style="font-size:2.85px">BSA</text>
<line x1="405.40" y1="260.30" x2="416.00" y2="260.30" stroke="#c07474" style="stroke-width:0.89"/>
<text x="417.10" y="261.45" class="lt" style="font-size:2.85px">CSA</text>
<line x1="405.40" y1="264.23" x2="416.00" y2="264.23" stroke="#3ee23e" style="stroke-width:0.89"/>
<text x="417.10" y="265.38" class="lt" style="font-size:2.85px">SOA</text>
<line x1="405.40" y1="268.16" x2="416.00" y2="268.16" stroke="#44f0f0" style="stroke-width:0.89"/>
<text x="417.10" y="269.31" class="lt" style="font-size:2.85px">WHO</text>
<line x1="405.40" y1="272.09" x2="416.00" y2="272.09" stroke="#ff55ff" style="stroke-width:0.89"/>
<text x="417.10" y="273.24" class="lt" style="font-size:2.85px">WOA</text>
<line x1="405.40" y1="276.02" x2="416.00" y2="276.02" stroke="#9cc29c" style="stroke-width:0.89"/>
<text x="417.10" y="277.17" class="lt" style="font-size:2.85px">DO</text>
<line x1="405.40" y1="279.95" x2="416.00" y2="279.95" stroke="#9a9a9a" style="stroke-width:0.89"/>
<text x="417.10" y="281.10" class="lt" style="font-size:2.85px">FHO</text>
<line x1="16.70" y1="424.50" x2="132.60" y2="424.50" class="mg"/>
<line x1="16.70" y1="416.42" x2="132.60" y2="416.42" class="mg"/>
<line x1="16.70" y1="410.70" x2="132.60" y2="410.70" class="mg"/>
<line x1="16.70" y1="406.25" x2="132.60" y2="406.25" class="mg"/>
<line x1="16.70" y1="402.62" x2="132.60" y2="402.62" class="mg"/>
<line x1="16.70" y1="399.55" x2="132.60" y2="399.55" class="mg"/>
<line x1="16.70" y1="396.89" x2="132.60" y2="396.89" class="mg"/>
<line x1="16.70" y1="394.55" x2="132.60" y2="394.55" class="mg"/>
<line x1="16.70" y1="378.65" x2="132.60" y2="378.65" class="mg"/>
<line x1="16.70" y1="370.57" x2="132.60" y2="370.57" class="mg"/>
<line x1="16.70" y1="364.85" x2="132.60" y2="364.85" class="mg"/>
<line x1="16.70" y1="360.40" x2="132.60" y2="360.40" class="mg"/>
<line x1="16.70" y1="356.77" x2="132.60" y2="356.77" class="mg"/>
<line x1="16.70" y1="353.70" x2="132.60" y2="353.70" class="mg"/>
<line x1="16.70" y1="351.04" x2="132.60" y2="351.04" class="mg"/>
<line x1="16.70" y1="348.70" x2="132.60" y2="348.70" class="mg"/>
<line x1="16.70" y1="392.45" x2="132.60" y2="392.45" class="g"/>
<line x1="28.29" y1="346.60" x2="28.29" y2="438.30" class="g"/>
<line x1="39.88" y1="346.60" x2="39.88" y2="438.30" class="g"/>
<line x1="51.47" y1="346.60" x2="51.47" y2="438.30" class="g"/>
<line x1="63.06" y1="346.60" x2="63.06" y2="438.30" class="g"/>
<line x1="74.65" y1="346.60" x2="74.65" y2="438.30" class="g"/>
<line x1="86.24" y1="346.60" x2="86.24" y2="438.30" class="g"/>
<line x1="97.83" y1="346.60" x2="97.83" y2="438.30" class="g"/>
<line x1="109.42" y1="346.60" x2="109.42" y2="438.30" class="g"/>
<line x1="121.01" y1="346.60" x2="121.01" y2="438.30" class="g"/>
<g>
<polyline points="16.9,386.0 17.3,390.0 17.8,398.0 18.5,402.6 20.0,409.4 23.0,413.5 30.0,414.5 75.0,415.2 132.6,415.4" stroke="#ff4444" class="cv" style="stroke-width:1.05"/>
<polyline points="16.9,406.0 18.0,410.0 25.0,411.8 132.6,412.2" stroke="#44f0f0" class="cv" style="stroke-width:1.05"/>
<polyline points="16.9,406.0 18.0,410.0 25.0,412.0 132.6,412.4" stroke="#4f90c8" class="cv" style="stroke-width:1.05"/>
<polyline points="16.9,407.0 18.0,411.0 25.0,413.5 132.6,414.0" stroke="#9cc29c" class="cv" style="stroke-width:1.05"/>
<polyline points="16.9,407.0 18.0,412.0 25.0,414.5 132.6,415.0" stroke="#c07474" class="cv" style="stroke-width:1.05"/>
<polyline points="16.9,407.0 18.0,412.0 25.0,415.0 132.6,415.5" stroke="#9a9a9a" class="cv" style="stroke-width:1.05"/>
<polyline points="16.9,407.0 18.0,411.0 25.0,413.0 132.6,413.3" stroke="#ff55ff" class="cv" style="stroke-width:1.05"/>
<polyline points="16.9,407.0 18.0,410.0 20.0,411.5 75.0,414.4 132.6,414.7" stroke="#3ee23e" class="cv" style="stroke-width:1.05"/>
<polyline points="16.9,408.0 18.0,413.0 25.0,416.0 132.6,416.1" stroke="#464646" class="cv" style="stroke-width:1.05"/>
<polyline points="16.9,405.0 18.0,408.0 22.0,408.7 35.0,409.5 42.0,410.5 45.0,411.5 75.0,412.0 132.6,412.3" stroke="#b0aa55" class="cv" style="stroke-width:1.05"/>
<polyline points="16.9,396.0 17.5,405.0 18.2,410.0 20.0,416.2 75.0,417.2 132.6,417.4" stroke="#4444ff" class="cv" style="stroke-width:1.05"/>
</g>
<path d="M28.29,438.30v-1.00M28.29,346.60v1.00M39.88,438.30v-1.00M39.88,346.60v1.00M51.47,438.30v-1.00M51.47,346.60v1.00M63.06,438.30v-1.00M63.06,346.60v1.00M74.65,438.30v-1.00M74.65,346.60v1.00M86.24,438.30v-1.00M86.24,346.60v1.00M97.83,438.30v-1.00M97.83,346.60v1.00M109.42,438.30v-1.00M109.42,346.60v1.00M121.01,438.30v-1.00M121.01,346.60v1.00M16.70,392.45h1.00M132.60,392.45h-1.00M16.70,424.50h0.80M132.60,424.50h-0.80M16.70,416.42h0.80M132.60,416.42h-0.80M16.70,410.70h0.80M132.60,410.70h-0.80M16.70,406.25h0.80M132.60,406.25h-0.80M16.70,402.62h0.80M132.60,402.62h-0.80M16.70,399.55h0.80M132.60,399.55h-0.80M16.70,396.89h0.80M132.60,396.89h-0.80M16.70,394.55h0.80M132.60,394.55h-0.80M16.70,378.65h0.80M132.60,378.65h-0.80M16.70,370.57h0.80M132.60,370.57h-0.80M16.70,364.85h0.80M132.60,364.85h-0.80M16.70,360.40h0.80M132.60,360.40h-0.80M16.70,356.77h0.80M132.60,356.77h-0.80M16.70,353.70h0.80M132.60,353.70h-0.80M16.70,351.04h0.80M132.60,351.04h-0.80M16.70,348.70h0.80M132.60,348.70h-0.80" class="tk" style="stroke-width:0.60"/>
<rect x="16.70" y="346.60" width="115.90" height="91.70" class="ax" style="stroke-width:0.90"/>
<text x="28.29" y="443.00" class="tl" text-anchor="middle" style="font-size:3.20px">100</text>
<text x="39.88" y="443.00" class="tl" text-anchor="middle" style="font-size:3.20px">200</text>
<text x="51.47" y="443.00" class="tl" text-anchor="middle" style="font-size:3.20px">300</text>
<text x="63.06" y="443.00" class="tl" text-anchor="middle" style="font-size:3.20px">400</text>
<text x="74.65" y="443.00" class="tl" text-anchor="middle" style="font-size:3.20px">500</text>
<text x="86.24" y="443.00" class="tl" text-anchor="middle" style="font-size:3.20px">600</text>
<text x="97.83" y="443.00" class="tl" text-anchor="middle" style="font-size:3.20px">700</text>
<text x="109.42" y="443.00" class="tl" text-anchor="middle" style="font-size:3.20px">800</text>
<text x="121.01" y="443.00" class="tl" text-anchor="middle" style="font-size:3.20px">900</text>
<text x="132.60" y="443.00" class="tl" text-anchor="middle" style="font-size:3.20px">1000</text>
<text x="15.40" y="441.20" class="tl" text-anchor="end" style="font-size:3.60px">10<tspan dy="-1.60" style="font-size:2.62px">2</tspan></text>
<text x="15.40" y="395.35" class="tl" text-anchor="end" style="font-size:3.60px">10<tspan dy="-1.60" style="font-size:2.62px">3</tspan></text>
<text x="15.40" y="349.50" class="tl" text-anchor="end" style="font-size:3.60px">10<tspan dy="-1.60" style="font-size:2.62px">4</tspan></text>
<text x="74.65" y="448.60" class="tl" text-anchor="middle" style="font-size:3.30px">Iteration</text>
<text transform="translate(6.90,392.45) rotate(-90)" class="tl" text-anchor="middle" style="font-size:3.90px">Average Best So-far</text>
<text x="74.65" y="344.30" class="tt" text-anchor="middle" style="font-size:4.05px">Composition Function 5 (N=5)</text>
<rect x="99.50" y="350.00" width="29.60" height="44.40" class="lg" style="stroke-width:0.80"/>
<line x1="102.40" y1="352.65" x2="113.00" y2="352.65" stroke="#ff4444" style="stroke-width:0.89"/>
<text x="114.10" y="353.80" class="lt" style="font-size:2.85px">EEFMHCA</text>
<line x1="102.40" y1="356.58" x2="113.00" y2="356.58" stroke="#4444ff" style="stroke-width:0.89"/>
<text x="114.10" y="357.73" class="lt" style="font-size:2.85px">EFMHCA</text>
<line x1="102.40" y1="360.51" x2="113.00" y2="360.51" stroke="#464646" style="stroke-width:0.89"/>
<text x="114.10" y="361.66" class="lt" style="font-size:2.85px">MCA</text>
<line x1="102.40" y1="364.44" x2="113.00" y2="364.44" stroke="#b0aa55" style="stroke-width:0.89"/>
<text x="114.10" y="365.59" class="lt" style="font-size:2.85px">BCA</text>
<line x1="102.40" y1="368.37" x2="113.00" y2="368.37" stroke="#4f90c8" style="stroke-width:0.89"/>
<text x="114.10" y="369.52" class="lt" style="font-size:2.85px">BSA</text>
<line x1="102.40" y1="372.30" x2="113.00" y2="372.30" stroke="#c07474" style="stroke-width:0.89"/>
<text x="114.10" y="373.45" class="lt" style="font-size:2.85px">CSA</text>
<line x1="102.40" y1="376.23" x2="113.00" y2="376.23" stroke="#3ee23e" style="stroke-width:0.89"/>
<text x="114.10" y="377.38" class="lt" style="font-size:2.85px">SOA</text>
<line x1="102.40" y1="380.16" x2="113.00" y2="380.16" stroke="#44f0f0" style="stroke-width:0.89"/>
<text x="114.10" y="381.31" class="lt" style="font-size:2.85px">WHO</text>
<line x1="102.40" y1="384.09" x2="113.00" y2="384.09" stroke="#ff55ff" style="stroke-width:0.89"/>
<text x="114.10" y="385.24" class="lt" style="font-size:2.85px">WOA</text>
<line x1="102.40" y1="388.02" x2="113.00" y2="388.02" stroke="#9cc29c" style="stroke-width:0.89"/>
<text x="114.10" y="389.17" class="lt" style="font-size:2.85px">DO</text>
<line x1="102.40" y1="391.95" x2="113.00" y2="391.95" stroke="#9a9a9a" style="stroke-width:0.89"/>
<text x="114.10" y="393.10" class="lt" style="font-size:2.85px">FHO</text>
<line x1="168.30" y1="424.50" x2="284.00" y2="424.50" class="mg"/>
<line x1="168.30" y1="416.42" x2="284.00" y2="416.42" class="mg"/>
<line x1="168.30" y1="410.70" x2="284.00" y2="410.70" class="mg"/>
<line x1="168.30" y1="406.25" x2="284.00" y2="406.25" class="mg"/>
<line x1="168.30" y1="402.62" x2="284.00" y2="402.62" class="mg"/>
<line x1="168.30" y1="399.55" x2="284.00" y2="399.55" class="mg"/>
<line x1="168.30" y1="396.89" x2="284.00" y2="396.89" class="mg"/>
<line x1="168.30" y1="394.55" x2="284.00" y2="394.55" class="mg"/>
<line x1="168.30" y1="378.65" x2="284.00" y2="378.65" class="mg"/>
<line x1="168.30" y1="370.57" x2="284.00" y2="370.57" class="mg"/>
<line x1="168.30" y1="364.85" x2="284.00" y2="364.85" class="mg"/>
<line x1="168.30" y1="360.40" x2="284.00" y2="360.40" class="mg"/>
<line x1="168.30" y1="356.77" x2="284.00" y2="356.77" class="mg"/>
<line x1="168.30" y1="353.70" x2="284.00" y2="353.70" class="mg"/>
<line x1="168.30" y1="351.04" x2="284.00" y2="351.04" class="mg"/>
<line x1="168.30" y1="348.70" x2="284.00" y2="348.70" class="mg"/>
<line x1="168.30" y1="392.45" x2="284.00" y2="392.45" class="g"/>
<line x1="179.87" y1="346.60" x2="179.87" y2="438.30" class="g"/>
<line x1="191.44" y1="346.60" x2="191.44" y2="438.30" class="g"/>
<line x1="203.01" y1="346.60" x2="203.01" y2="438.30" class="g"/>
<line x1="214.58" y1="346.60" x2="214.58" y2="438.30" class="g"/>
<line x1="226.15" y1="346.60" x2="226.15" y2="438.30" class="g"/>
<line x1="237.72" y1="346.60" x2="237.72" y2="438.30" class="g"/>
<line x1="249.29" y1="346.60" x2="249.29" y2="438.30" class="g"/>
<line x1="260.86" y1="346.60" x2="260.86" y2="438.30" class="g"/>
<line x1="272.43" y1="346.60" x2="272.43" y2="438.30" class="g"/>
<g>
<polyline points="168.4,409.0 172.0,411.5 226.0,412.3 284.0,412.3" stroke="#4f90c8" class="cv" style="stroke-width:1.05"/>
<polyline points="168.4,409.5 172.0,411.5 226.0,412.0 284.0,412.0" stroke="#44f0f0" class="cv" style="stroke-width:1.05"/>
<polyline points="168.4,409.5 172.0,412.5 226.0,413.3 284.0,413.8" stroke="#ff55ff" class="cv" style="stroke-width:1.05"/>
<polyline points="168.4,410.0 172.0,413.0 226.0,414.0 284.0,414.3" stroke="#9cc29c" class="cv" style="stroke-width:1.05"/>
<polyline points="168.4,410.0 172.0,413.5 226.0,415.0 284.0,415.5" stroke="#c07474" class="cv" style="stroke-width:1.05"/>
<polyline points="168.4,410.0 172.0,414.0 226.0,415.5 284.0,416.0" stroke="#555" class="cv" style="stroke-width:1.40"/>
<polyline points="168.4,410.0 172.0,414.0 226.0,415.3 284.0,416.1" stroke="#9a9a9a" class="cv" style="stroke-width:1.05"/>
<polyline points="168.4,408.0 172.0,411.8 226.0,414.4 284.0,414.7" stroke="#3ee23e" class="cv" style="stroke-width:1.05"/>
<polyline points="168.4,407.5 172.0,408.3 190.0,409.5 195.0,410.5 198.0,411.9 226.0,412.2 284.0,412.5" stroke="#b0aa55" class="cv" style="stroke-width:1.05"/>
<polyline points="168.4,388.0 169.0,391.5 170.1,395.5 172.0,398.2 174.3,399.9 178.0,400.9 182.6,401.3 230.0,401.6 284.0,401.7" stroke="#6a6aff" class="cv" style="stroke-width:1.60"/>
<polyline points="168.4,385.0 169.0,388.5 170.1,393.8 172.0,396.5 174.3,398.0 178.0,399.3 182.6,399.9 193.6,401.5 207.4,403.5 221.2,405.4 248.9,406.8 284.0,407.5" stroke="#ff7a7a" class="cv" style="stroke-width:1.60"/>
</g>
<path d="M179.87,438.30v-1.00M179.87,346.60v1.00M191.44,438.30v-1.00M191.44,346.60v1.00M203.01,438.30v-1.00M203.01,346.60v1.00M214.58,438.30v-1.00M214.58,346.60v1.00M226.15,438.30v-1.00M226.15,346.60v1.00M237.72,438.30v-1.00M237.72,346.60v1.00M249.29,438.30v-1.00M249.29,346.60v1.00M260.86,438.30v-1.00M260.86,346.60v1.00M272.43,438.30v-1.00M272.43,346.60v1.00M168.30,392.45h1.00M284.00,392.45h-1.00M168.30,424.50h0.80M284.00,424.50h-0.80M168.30,416.42h0.80M284.00,416.42h-0.80M168.30,410.70h0.80M284.00,410.70h-0.80M168.30,406.25h0.80M284.00,406.25h-0.80M168.30,402.62h0.80M284.00,402.62h-0.80M168.30,399.55h0.80M284.00,399.55h-0.80M168.30,396.89h0.80M284.00,396.89h-0.80M168.30,394.55h0.80M284.00,394.55h-0.80M168.30,378.65h0.80M284.00,378.65h-0.80M168.30,370.57h0.80M284.00,370.57h-0.80M168.30,364.85h0.80M284.00,364.85h-0.80M168.30,360.40h0.80M284.00,360.40h-0.80M168.30,356.77h0.80M284.00,356.77h-0.80M168.30,353.70h0.80M284.00,353.70h-0.80M168.30,351.04h0.80M284.00,351.04h-0.80M168.30,348.70h0.80M284.00,348.70h-0.80" class="tk" style="stroke-width:0.60"/>
<rect x="168.30" y="346.60" width="115.70" height="91.70" class="ax" style="stroke-width:0.90"/>
<text x="179.87" y="443.00" class="tl" text-anchor="middle" style="font-size:3.20px">100</text>
<text x="191.44" y="443.00" class="tl" text-anchor="middle" style="font-size:3.20px">200</text>
<text x="203.01" y="443.00" class="tl" text-anchor="middle" style="font-size:3.20px">300</text>
<text x="214.58" y="443.00" class="tl" text-anchor="middle" style="font-size:3.20px">400</text>
<text x="226.15" y="443.00" class="tl" text-anchor="middle" style="font-size:3.20px">500</text>
<text x="237.72" y="443.00" class="tl" text-anchor="middle" style="font-size:3.20px">600</text>
<text x="249.29" y="443.00" class="tl" text-anchor="middle" style="font-size:3.20px">700</text>
<text x="260.86" y="443.00" class="tl" text-anchor="middle" style="font-size:3.20px">800</text>
<text x="272.43" y="443.00" class="tl" text-anchor="middle" style="font-size:3.20px">900</text>
<text x="284.00" y="443.00" class="tl" text-anchor="middle" style="font-size:3.20px">1000</text>
<text x="167.00" y="441.20" class="tl" text-anchor="end" style="font-size:3.60px">10<tspan dy="-1.60" style="font-size:2.62px">2</tspan></text>
<text x="167.00" y="395.35" class="tl" text-anchor="end" style="font-size:3.60px">10<tspan dy="-1.60" style="font-size:2.62px">3</tspan></text>
<text x="167.00" y="349.50" class="tl" text-anchor="end" style="font-size:3.60px">10<tspan dy="-1.60" style="font-size:2.62px">4</tspan></text>
<text x="226.15" y="448.60" class="tl" text-anchor="middle" style="font-size:3.30px">Iteration</text>
<text transform="translate(158.50,392.45) rotate(-90)" class="tl" text-anchor="middle" style="font-size:3.90px">Average Best So-far</text>
<text x="226.15" y="344.30" class="tt" text-anchor="middle" style="font-size:4.05px">Composition Function 6 (N=5)</text>
<rect x="250.90" y="350.00" width="29.60" height="44.40" class="lg" style="stroke-width:0.80"/>
<line x1="253.80" y1="352.65" x2="264.40" y2="352.65" stroke="#ff7a7a" style="stroke-width:1.36"/>
<text x="265.50" y="353.80" class="lt" style="font-size:2.85px">EEFMHCA</text>
<line x1="253.80" y1="356.58" x2="264.40" y2="356.58" stroke="#6a6aff" style="stroke-width:1.36"/>
<text x="265.50" y="357.73" class="lt" style="font-size:2.85px">EFMHCA</text>
<line x1="253.80" y1="360.51" x2="264.40" y2="360.51" stroke="#555" style="stroke-width:1.19"/>
<text x="265.50" y="361.66" class="lt" style="font-size:2.85px">MCA</text>
<line x1="253.80" y1="364.44" x2="264.40" y2="364.44" stroke="#b0aa55" style="stroke-width:0.89"/>
<text x="265.50" y="365.59" class="lt" style="font-size:2.85px">BCA</text>
<line x1="253.80" y1="368.37" x2="264.40" y2="368.37" stroke="#4f90c8" style="stroke-width:0.89"/>
<text x="265.50" y="369.52" class="lt" style="font-size:2.85px">BSA</text>
<line x1="253.80" y1="372.30" x2="264.40" y2="372.30" stroke="#c07474" style="stroke-width:0.89"/>
<text x="265.50" y="373.45" class="lt" style="font-size:2.85px">CSA</text>
<line x1="253.80" y1="376.23" x2="264.40" y2="376.23" stroke="#3ee23e" style="stroke-width:0.89"/>
<text x="265.50" y="377.38" class="lt" style="font-size:2.85px">SOA</text>
<line x1="253.80" y1="380.16" x2="264.40" y2="380.16" stroke="#44f0f0" style="stroke-width:0.89"/>
<text x="265.50" y="381.31" class="lt" style="font-size:2.85px">WHO</text>
<line x1="253.80" y1="384.09" x2="264.40" y2="384.09" stroke="#ff55ff" style="stroke-width:0.89"/>
<text x="265.50" y="385.24" class="lt" style="font-size:2.85px">WOA</text>
<line x1="253.80" y1="388.02" x2="264.40" y2="388.02" stroke="#9cc29c" style="stroke-width:0.89"/>
<text x="265.50" y="389.17" class="lt" style="font-size:2.85px">DO</text>
<line x1="253.80" y1="391.95" x2="264.40" y2="391.95" stroke="#9a9a9a" style="stroke-width:0.89"/>
<text x="265.50" y="393.10" class="lt" style="font-size:2.85px">FHO</text>
<line x1="319.50" y1="424.50" x2="435.60" y2="424.50" class="mg"/>
<line x1="319.50" y1="416.42" x2="435.60" y2="416.42" class="mg"/>
<line x1="319.50" y1="410.70" x2="435.60" y2="410.70" class="mg"/>
<line x1="319.50" y1="406.25" x2="435.60" y2="406.25" class="mg"/>
<line x1="319.50" y1="402.62" x2="435.60" y2="402.62" class="mg"/>
<line x1="319.50" y1="399.55" x2="435.60" y2="399.55" class="mg"/>
<line x1="319.50" y1="396.89" x2="435.60" y2="396.89" class="mg"/>
<line x1="319.50" y1="394.55" x2="435.60" y2="394.55" class="mg"/>
<line x1="319.50" y1="378.65" x2="435.60" y2="378.65" class="mg"/>
<line x1="319.50" y1="370.57" x2="435.60" y2="370.57" class="mg"/>
<line x1="319.50" y1="364.85" x2="435.60" y2="364.85" class="mg"/>
<line x1="319.50" y1="360.40" x2="435.60" y2="360.40" class="mg"/>
<line x1="319.50" y1="356.77" x2="435.60" y2="356.77" class="mg"/>
<line x1="319.50" y1="353.70" x2="435.60" y2="353.70" class="mg"/>
<line x1="319.50" y1="351.04" x2="435.60" y2="351.04" class="mg"/>
<line x1="319.50" y1="348.70" x2="435.60" y2="348.70" class="mg"/>
<line x1="319.50" y1="392.45" x2="435.60" y2="392.45" class="g"/>
<line x1="331.11" y1="346.60" x2="331.11" y2="438.30" class="g"/>
<line x1="342.72" y1="346.60" x2="342.72" y2="438.30" class="g"/>
<line x1="354.33" y1="346.60" x2="354.33" y2="438.30" class="g"/>
<line x1="365.94" y1="346.60" x2="365.94" y2="438.30" class="g"/>
<line x1="377.55" y1="346.60" x2="377.55" y2="438.30" class="g"/>
<line x1="389.16" y1="346.60" x2="389.16" y2="438.30" class="g"/>
<line x1="400.77" y1="346.60" x2="400.77" y2="438.30" class="g"/>
<line x1="412.38" y1="346.60" x2="412.38" y2="438.30" class="g"/>
<line x1="423.99" y1="346.60" x2="423.99" y2="438.30" class="g"/>
<g>
<polyline points="319.6,406.0 322.0,409.3 376.0,409.6 435.6,410.0" stroke="#44f0f0" class="cv" style="stroke-width:1.05"/>
<polyline points="319.6,406.0 322.0,409.7 376.0,410.0 435.6,410.3" stroke="#4f90c8" class="cv" style="stroke-width:1.05"/>
<polyline points="319.6,407.0 322.0,410.5 376.0,411.3 435.6,412.0" stroke="#9cc29c" class="cv" style="stroke-width:1.05"/>
<polyline points="319.6,403.5 321.0,405.0 323.0,408.0 326.0,409.5 376.0,411.0 435.6,412.6" stroke="#3ee23e" class="cv" style="stroke-width:1.05"/>
<polyline points="319.6,407.0 322.0,411.0 376.0,412.0 435.6,412.8" stroke="#ff55ff" class="cv" style="stroke-width:1.05"/>
<polyline points="319.6,404.5 322.0,405.2 335.0,405.7 337.0,406.5 339.0,408.1 376.0,409.2 435.6,410.0" stroke="#b0aa55" class="cv" style="stroke-width:1.05"/>
<polyline points="319.6,408.0 322.0,413.0 376.0,414.0 435.6,414.4" stroke="#ff4444" class="cv" style="stroke-width:1.05"/>
<polyline points="319.6,407.0 322.0,411.5 376.0,412.5 435.6,413.2" stroke="#9a9a9a" class="cv" style="stroke-width:1.05"/>
<polyline points="319.6,407.5 322.0,412.0 376.0,413.0 435.6,413.6" stroke="#c07474" class="cv" style="stroke-width:1.05"/>
<polyline points="319.6,407.5 322.0,412.5 376.0,413.4 435.6,413.8" stroke="#464646" class="cv" style="stroke-width:1.05"/>
<polyline points="319.6,407.0 319.9,411.0 320.5,413.3 376.0,413.6 435.6,414.0" stroke="#4444ff" class="cv" style="stroke-width:1.05"/>
</g>
<path d="M331.11,438.30v-1.00M331.11,346.60v1.00M342.72,438.30v-1.00M342.72,346.60v1.00M354.33,438.30v-1.00M354.33,346.60v1.00M365.94,438.30v-1.00M365.94,346.60v1.00M377.55,438.30v-1.00M377.55,346.60v1.00M389.16,438.30v-1.00M389.16,346.60v1.00M400.77,438.30v-1.00M400.77,346.60v1.00M412.38,438.30v-1.00M412.38,346.60v1.00M423.99,438.30v-1.00M423.99,346.60v1.00M319.50,392.45h1.00M435.60,392.45h-1.00M319.50,424.50h0.80M435.60,424.50h-0.80M319.50,416.42h0.80M435.60,416.42h-0.80M319.50,410.70h0.80M435.60,410.70h-0.80M319.50,406.25h0.80M435.60,406.25h-0.80M319.50,402.62h0.80M435.60,402.62h-0.80M319.50,399.55h0.80M435.60,399.55h-0.80M319.50,396.89h0.80M435.60,396.89h-0.80M319.50,394.55h0.80M435.60,394.55h-0.80M319.50,378.65h0.80M435.60,378.65h-0.80M319.50,370.57h0.80M435.60,370.57h-0.80M319.50,364.85h0.80M435.60,364.85h-0.80M319.50,360.40h0.80M435.60,360.40h-0.80M319.50,356.77h0.80M435.60,356.77h-0.80M319.50,353.70h0.80M435.60,353.70h-0.80M319.50,351.04h0.80M435.60,351.04h-0.80M319.50,348.70h0.80M435.60,348.70h-0.80" class="tk" style="stroke-width:0.60"/>
<rect x="319.50" y="346.60" width="116.10" height="91.70" class="ax" style="stroke-width:0.90"/>
<text x="331.11" y="443.00" class="tl" text-anchor="middle" style="font-size:3.20px">100</text>
<text x="342.72" y="443.00" class="tl" text-anchor="middle" style="font-size:3.20px">200</text>
<text x="354.33" y="443.00" class="tl" text-anchor="middle" style="font-size:3.20px">300</text>
<text x="365.94" y="443.00" class="tl" text-anchor="middle" style="font-size:3.20px">400</text>
<text x="377.55" y="443.00" class="tl" text-anchor="middle" style="font-size:3.20px">500</text>
<text x="389.16" y="443.00" class="tl" text-anchor="middle" style="font-size:3.20px">600</text>
<text x="400.77" y="443.00" class="tl" text-anchor="middle" style="font-size:3.20px">700</text>
<text x="412.38" y="443.00" class="tl" text-anchor="middle" style="font-size:3.20px">800</text>
<text x="423.99" y="443.00" class="tl" text-anchor="middle" style="font-size:3.20px">900</text>
<text x="435.60" y="443.00" class="tl" text-anchor="middle" style="font-size:3.20px">1000</text>
<text x="318.20" y="441.20" class="tl" text-anchor="end" style="font-size:3.60px">10<tspan dy="-1.60" style="font-size:2.62px">2</tspan></text>
<text x="318.20" y="395.35" class="tl" text-anchor="end" style="font-size:3.60px">10<tspan dy="-1.60" style="font-size:2.62px">3</tspan></text>
<text x="318.20" y="349.50" class="tl" text-anchor="end" style="font-size:3.60px">10<tspan dy="-1.60" style="font-size:2.62px">4</tspan></text>
<text x="377.55" y="448.60" class="tl" text-anchor="middle" style="font-size:3.30px">Iteration</text>
<text transform="translate(309.70,392.45) rotate(-90)" class="tl" text-anchor="middle" style="font-size:3.90px">Average Best So-far</text>
<text x="377.55" y="344.30" class="tt" text-anchor="middle" style="font-size:4.05px">Composition Function 7 (N=6)</text>
<rect x="402.50" y="350.00" width="29.60" height="44.40" class="lg" style="stroke-width:0.80"/>
<line x1="405.40" y1="352.65" x2="416.00" y2="352.65" stroke="#ff4444" style="stroke-width:0.89"/>
<text x="417.10" y="353.80" class="lt" style="font-size:2.85px">EEFMHCA</text>
<line x1="405.40" y1="356.58" x2="416.00" y2="356.58" stroke="#4444ff" style="stroke-width:0.89"/>
<text x="417.10" y="357.73" class="lt" style="font-size:2.85px">EFMHCA</text>
<line x1="405.40" y1="360.51" x2="416.00" y2="360.51" stroke="#464646" style="stroke-width:0.89"/>
<text x="417.10" y="361.66" class="lt" style="font-size:2.85px">MCA</text>
<line x1="405.40" y1="364.44" x2="416.00" y2="364.44" stroke="#b0aa55" style="stroke-width:0.89"/>
<text x="417.10" y="365.59" class="lt" style="font-size:2.85px">BCA</text>
<line x1="405.40" y1="368.37" x2="416.00" y2="368.37" stroke="#4f90c8" style="stroke-width:0.89"/>
<text x="417.10" y="369.52" class="lt" style="font-size:2.85px">BSA</text>
<line x1="405.40" y1="372.30" x2="416.00" y2="372.30" stroke="#c07474" style="stroke-width:0.89"/>
<text x="417.10" y="373.45" class="lt" style="font-size:2.85px">CSA</text>
<line x1="405.40" y1="376.23" x2="416.00" y2="376.23" stroke="#3ee23e" style="stroke-width:0.89"/>
<text x="417.10" y="377.38" class="lt" style="font-size:2.85px">SOA</text>
<line x1="405.40" y1="380.16" x2="416.00" y2="380.16" stroke="#44f0f0" style="stroke-width:0.89"/>
<text x="417.10" y="381.31" class="lt" style="font-size:2.85px">WHO</text>
<line x1="405.40" y1="384.09" x2="416.00" y2="384.09" stroke="#ff55ff" style="stroke-width:0.89"/>
<text x="417.10" y="385.24" class="lt" style="font-size:2.85px">WOA</text>
<line x1="405.40" y1="388.02" x2="416.00" y2="388.02" stroke="#9cc29c" style="stroke-width:0.89"/>
<text x="417.10" y="389.17" class="lt" style="font-size:2.85px">DO</text>
<line x1="405.40" y1="391.95" x2="416.00" y2="391.95" stroke="#9a9a9a" style="stroke-width:0.89"/>
<text x="417.10" y="393.10" class="lt" style="font-size:2.85px">FHO</text>
<line x1="108.20" y1="526.96" x2="209.60" y2="526.96" class="mg"/>
<line x1="108.20" y1="519.92" x2="209.60" y2="519.92" class="mg"/>
<line x1="108.20" y1="514.92" x2="209.60" y2="514.92" class="mg"/>
<line x1="108.20" y1="511.04" x2="209.60" y2="511.04" class="mg"/>
<line x1="108.20" y1="507.87" x2="209.60" y2="507.87" class="mg"/>
<line x1="108.20" y1="505.20" x2="209.60" y2="505.20" class="mg"/>
<line x1="108.20" y1="502.88" x2="209.60" y2="502.88" class="mg"/>
<line x1="108.20" y1="500.83" x2="209.60" y2="500.83" class="mg"/>
<line x1="108.20" y1="486.96" x2="209.60" y2="486.96" class="mg"/>
<line x1="108.20" y1="479.92" x2="209.60" y2="479.92" class="mg"/>
<line x1="108.20" y1="474.92" x2="209.60" y2="474.92" class="mg"/>
<line x1="108.20" y1="471.04" x2="209.60" y2="471.04" class="mg"/>
<line x1="108.20" y1="467.87" x2="209.60" y2="467.87" class="mg"/>
<line x1="108.20" y1="465.20" x2="209.60" y2="465.20" class="mg"/>
<line x1="108.20" y1="462.88" x2="209.60" y2="462.88" class="mg"/>
<line x1="108.20" y1="460.83" x2="209.60" y2="460.83" class="mg"/>
<line x1="108.20" y1="499.00" x2="209.60" y2="499.00" class="g"/>
<line x1="118.34" y1="459.00" x2="118.34" y2="539.00" class="g"/>
<line x1="128.48" y1="459.00" x2="128.48" y2="539.00" class="g"/>
<line x1="138.62" y1="459.00" x2="138.62" y2="539.00" class="g"/>
<line x1="148.76" y1="459.00" x2="148.76" y2="539.00" class="g"/>
<line x1="158.90" y1="459.00" x2="158.90" y2="539.00" class="g"/>
<line x1="169.04" y1="459.00" x2="169.04" y2="539.00" class="g"/>
<line x1="179.18" y1="459.00" x2="179.18" y2="539.00" class="g"/>
<line x1="189.32" y1="459.00" x2="189.32" y2="539.00" class="g"/>
<line x1="199.46" y1="459.00" x2="199.46" y2="539.00" class="g"/>
<g>
<polyline points="108.3,497.3 160.0,498.3 195.0,498.5 200.0,501.5 209.6,502.2" stroke="#44f0f0" class="cv" style="stroke-width:0.92"/>
<polyline points="108.3,497.5 109.5,501.0 112.0,502.5 130.0,503.3 160.0,504.2 209.6,504.4" stroke="#b0aa55" class="cv" style="stroke-width:0.92"/>
<polyline points="108.3,497.5 110.0,503.5 120.0,504.5 160.0,505.5 209.6,505.9" stroke="#4f90c8" class="cv" style="stroke-width:0.92"/>
<polyline points="108.3,498.0 109.5,506.0 112.0,513.6 116.0,515.5 160.0,517.2 209.6,517.4" stroke="#ff4444" class="cv" style="stroke-width:0.92"/>
<polyline points="108.3,498.0 110.0,508.0 113.0,513.2 125.0,515.3 160.0,517.0 209.6,517.2" stroke="#c07474" class="cv" style="stroke-width:0.92"/>
<polyline points="108.3,498.0 110.0,506.0 113.0,512.7 125.0,514.5 160.0,516.6 209.6,516.8" stroke="#3ee23e" class="cv" style="stroke-width:0.92"/>
<polyline points="108.3,498.0 110.0,507.0 118.0,512.0 140.0,514.5 209.6,516.0" stroke="#9cc29c" class="cv" style="stroke-width:0.92"/>
<polyline points="108.3,498.0 110.0,508.0 118.0,512.5 160.0,515.8 209.6,516.3" stroke="#9a9a9a" class="cv" style="stroke-width:0.92"/>
<polyline points="108.3,498.0 109.0,504.0 111.0,505.5 115.0,507.3 130.0,510.0 160.0,514.5 185.0,515.3 209.6,516.2" stroke="#ff55ff" class="cv" style="stroke-width:0.92"/>
<polyline points="108.3,498.0 110.0,507.0 120.0,511.8 160.0,515.0 209.6,515.3" stroke="#464646" class="cv" style="stroke-width:0.92"/>
<polyline points="108.3,498.0 109.0,505.0 110.0,514.5 112.0,517.5 116.0,518.2 160.0,518.4 209.6,518.4" stroke="#4444ff" class="cv" style="stroke-width:0.92"/>
</g>
<path d="M118.34,539.00v-0.88M118.34,459.00v0.88M128.48,539.00v-0.88M128.48,459.00v0.88M138.62,539.00v-0.88M138.62,459.00v0.88M148.76,539.00v-0.88M148.76,459.00v0.88M158.90,539.00v-0.88M158.90,459.00v0.88M169.04,539.00v-0.88M169.04,459.00v0.88M179.18,539.00v-0.88M179.18,459.00v0.88M189.32,539.00v-0.88M189.32,459.00v0.88M199.46,539.00v-0.88M199.46,459.00v0.88M108.20,499.00h0.88M209.60,499.00h-0.88M108.20,526.96h0.70M209.60,526.96h-0.70M108.20,519.92h0.70M209.60,519.92h-0.70M108.20,514.92h0.70M209.60,514.92h-0.70M108.20,511.04h0.70M209.60,511.04h-0.70M108.20,507.87h0.70M209.60,507.87h-0.70M108.20,505.20h0.70M209.60,505.20h-0.70M108.20,502.88h0.70M209.60,502.88h-0.70M108.20,500.83h0.70M209.60,500.83h-0.70M108.20,486.96h0.70M209.60,486.96h-0.70M108.20,479.92h0.70M209.60,479.92h-0.70M108.20,474.92h0.70M209.60,474.92h-0.70M108.20,471.04h0.70M209.60,471.04h-0.70M108.20,467.87h0.70M209.60,467.87h-0.70M108.20,465.20h0.70M209.60,465.20h-0.70M108.20,462.88h0.70M209.60,462.88h-0.70M108.20,460.83h0.70M209.60,460.83h-0.70" class="tk" style="stroke-width:0.53"/>
<rect x="108.20" y="459.00" width="101.40" height="80.00" class="ax" style="stroke-width:0.79"/>
<text x="118.34" y="543.55" class="tl" text-anchor="middle" style="font-size:2.80px">100</text>
<text x="128.48" y="543.55" class="tl" text-anchor="middle" style="font-size:2.80px">200</text>
<text x="138.62" y="543.55" class="tl" text-anchor="middle" style="font-size:2.80px">300</text>
<text x="148.76" y="543.55" class="tl" text-anchor="middle" style="font-size:2.80px">400</text>
<text x="158.90" y="543.55" class="tl" text-anchor="middle" style="font-size:2.80px">500</text>
<text x="169.04" y="543.55" class="tl" text-anchor="middle" style="font-size:2.80px">600</text>
<text x="179.18" y="543.55" class="tl" text-anchor="middle" style="font-size:2.80px">700</text>
<text x="189.32" y="543.55" class="tl" text-anchor="middle" style="font-size:2.80px">800</text>
<text x="199.46" y="543.55" class="tl" text-anchor="middle" style="font-size:2.80px">900</text>
<text x="209.60" y="543.55" class="tl" text-anchor="middle" style="font-size:2.80px">1000</text>
<text x="107.06" y="541.54" class="tl" text-anchor="end" style="font-size:3.15px">10<tspan dy="-1.40" style="font-size:2.62px">2</tspan></text>
<text x="107.06" y="501.54" class="tl" text-anchor="end" style="font-size:3.15px">10<tspan dy="-1.40" style="font-size:2.62px">3</tspan></text>
<text x="107.06" y="461.54" class="tl" text-anchor="end" style="font-size:3.15px">10<tspan dy="-1.40" style="font-size:2.62px">4</tspan></text>
<text x="158.90" y="548.01" class="tl" text-anchor="middle" style="font-size:2.89px">Iteration</text>
<text transform="translate(99.62,499.00) rotate(-90)" class="tl" text-anchor="middle" style="font-size:3.41px">Average Best So-far</text>
<text x="158.90" y="456.99" class="tt" text-anchor="middle" style="font-size:3.54px">Composition Function 8 (N=6)</text>
<rect x="180.64" y="461.98" width="25.90" height="38.85" class="lg" style="stroke-width:0.70"/>
<line x1="183.17" y1="464.29" x2="192.45" y2="464.29" stroke="#ff4444" style="stroke-width:0.78"/>
<text x="193.41" y="465.30" class="lt" style="font-size:2.66px">EEFMHCA</text>
<line x1="183.17" y1="467.73" x2="192.45" y2="467.73" stroke="#4444ff" style="stroke-width:0.78"/>
<text x="193.41" y="468.74" class="lt" style="font-size:2.66px">EFMHCA</text>
<line x1="183.17" y1="471.17" x2="192.45" y2="471.17" stroke="#464646" style="stroke-width:0.78"/>
<text x="193.41" y="472.18" class="lt" style="font-size:2.66px">MCA</text>
<line x1="183.17" y1="474.61" x2="192.45" y2="474.61" stroke="#b0aa55" style="stroke-width:0.78"/>
<text x="193.41" y="475.62" class="lt" style="font-size:2.66px">BCA</text>
<line x1="183.17" y1="478.05" x2="192.45" y2="478.05" stroke="#4f90c8" style="stroke-width:0.78"/>
<text x="193.41" y="479.06" class="lt" style="font-size:2.66px">BSA</text>
<line x1="183.17" y1="481.49" x2="192.45" y2="481.49" stroke="#c07474" style="stroke-width:0.78"/>
<text x="193.41" y="482.49" class="lt" style="font-size:2.66px">CSA</text>
<line x1="183.17" y1="484.93" x2="192.45" y2="484.93" stroke="#3ee23e" style="stroke-width:0.78"/>
<text x="193.41" y="485.93" class="lt" style="font-size:2.66px">SOA</text>
<line x1="183.17" y1="488.37" x2="192.45" y2="488.37" stroke="#44f0f0" style="stroke-width:0.78"/>
<text x="193.41" y="489.37" class="lt" style="font-size:2.66px">WHO</text>
<line x1="183.17" y1="491.80" x2="192.45" y2="491.80" stroke="#ff55ff" style="stroke-width:0.78"/>
<text x="193.41" y="492.81" class="lt" style="font-size:2.66px">WOA</text>
<line x1="183.17" y1="495.24" x2="192.45" y2="495.24" stroke="#9cc29c" style="stroke-width:0.78"/>
<text x="193.41" y="496.25" class="lt" style="font-size:2.66px">DO</text>
<line x1="183.17" y1="498.68" x2="192.45" y2="498.68" stroke="#9a9a9a" style="stroke-width:0.78"/>
<text x="193.41" y="499.69" class="lt" style="font-size:2.66px">FHO</text>
<line x1="241.40" y1="534.99" x2="342.80" y2="534.99" class="mg"/>
<line x1="241.40" y1="532.64" x2="342.80" y2="532.64" class="mg"/>
<line x1="241.40" y1="530.97" x2="342.80" y2="530.97" class="mg"/>
<line x1="241.40" y1="529.68" x2="342.80" y2="529.68" class="mg"/>
<line x1="241.40" y1="528.62" x2="342.80" y2="528.62" class="mg"/>
<line x1="241.40" y1="527.73" x2="342.80" y2="527.73" class="mg"/>
<line x1="241.40" y1="526.96" x2="342.80" y2="526.96" class="mg"/>
<line x1="241.40" y1="526.28" x2="342.80" y2="526.28" class="mg"/>
<line x1="241.40" y1="521.65" x2="342.80" y2="521.65" class="mg"/>
<line x1="241.40" y1="519.31" x2="342.80" y2="519.31" class="mg"/>
<line x1="241.40" y1="517.64" x2="342.80" y2="517.64" class="mg"/>
<line x1="241.40" y1="516.35" x2="342.80" y2="516.35" class="mg"/>
<line x1="241.40" y1="515.29" x2="342.80" y2="515.29" class="mg"/>
<line x1="241.40" y1="514.40" x2="342.80" y2="514.40" class="mg"/>
<line x1="241.40" y1="513.63" x2="342.80" y2="513.63" class="mg"/>
<line x1="241.40" y1="512.94" x2="342.80" y2="512.94" class="mg"/>
<line x1="241.40" y1="508.32" x2="342.80" y2="508.32" class="mg"/>
<line x1="241.40" y1="505.97" x2="342.80" y2="505.97" class="mg"/>
<line x1="241.40" y1="504.31" x2="342.80" y2="504.31" class="mg"/>
<line x1="241.40" y1="503.01" x2="342.80" y2="503.01" class="mg"/>
<line x1="241.40" y1="501.96" x2="342.80" y2="501.96" class="mg"/>
<line x1="241.40" y1="501.07" x2="342.80" y2="501.07" class="mg"/>
<line x1="241.40" y1="500.29" x2="342.80" y2="500.29" class="mg"/>
<line x1="241.40" y1="499.61" x2="342.80" y2="499.61" class="mg"/>
<line x1="241.40" y1="494.99" x2="342.80" y2="494.99" class="mg"/>
<line x1="241.40" y1="492.64" x2="342.80" y2="492.64" class="mg"/>
<line x1="241.40" y1="490.97" x2="342.80" y2="490.97" class="mg"/>
<line x1="241.40" y1="489.68" x2="342.80" y2="489.68" class="mg"/>
<line x1="241.40" y1="488.62" x2="342.80" y2="488.62" class="mg"/>
<line x1="241.40" y1="487.73" x2="342.80" y2="487.73" class="mg"/>
<line x1="241.40" y1="486.96" x2="342.80" y2="486.96" class="mg"/>
<line x1="241.40" y1="486.28" x2="342.80" y2="486.28" class="mg"/>
<line x1="241.40" y1="481.65" x2="342.80" y2="481.65" class="mg"/>
<line x1="241.40" y1="479.31" x2="342.80" y2="479.31" class="mg"/>
<line x1="241.40" y1="477.64" x2="342.80" y2="477.64" class="mg"/>
<line x1="241.40" y1="476.35" x2="342.80" y2="476.35" class="mg"/>
<line x1="241.40" y1="475.29" x2="342.80" y2="475.29" class="mg"/>
<line x1="241.40" y1="474.40" x2="342.80" y2="474.40" class="mg"/>
<line x1="241.40" y1="473.63" x2="342.80" y2="473.63" class="mg"/>
<line x1="241.40" y1="472.94" x2="342.80" y2="472.94" class="mg"/>
<line x1="241.40" y1="468.32" x2="342.80" y2="468.32" class="mg"/>
<line x1="241.40" y1="465.97" x2="342.80" y2="465.97" class="mg"/>
<line x1="241.40" y1="464.31" x2="342.80" y2="464.31" class="mg"/>
<line x1="241.40" y1="463.01" x2="342.80" y2="463.01" class="mg"/>
<line x1="241.40" y1="461.96" x2="342.80" y2="461.96" class="mg"/>
<line x1="241.40" y1="461.07" x2="342.80" y2="461.07" class="mg"/>
<line x1="241.40" y1="460.29" x2="342.80" y2="460.29" class="mg"/>
<line x1="241.40" y1="459.61" x2="342.80" y2="459.61" class="mg"/>
<line x1="241.40" y1="525.67" x2="342.80" y2="525.67" class="g"/>
<line x1="241.40" y1="512.33" x2="342.80" y2="512.33" class="g"/>
<line x1="241.40" y1="499.00" x2="342.80" y2="499.00" class="g"/>
<line x1="241.40" y1="485.67" x2="342.80" y2="485.67" class="g"/>
<line x1="241.40" y1="472.33" x2="342.80" y2="472.33" class="g"/>
<line x1="251.54" y1="459.00" x2="251.54" y2="539.00" class="g"/>
<line x1="261.68" y1="459.00" x2="261.68" y2="539.00" class="g"/>
<line x1="271.82" y1="459.00" x2="271.82" y2="539.00" class="g"/>
<line x1="281.96" y1="459.00" x2="281.96" y2="539.00" class="g"/>
<line x1="292.10" y1="459.00" x2="292.10" y2="539.00" class="g"/>
<line x1="302.24" y1="459.00" x2="302.24" y2="539.00" class="g"/>
<line x1="312.38" y1="459.00" x2="312.38" y2="539.00" class="g"/>
<line x1="322.52" y1="459.00" x2="322.52" y2="539.00" class="g"/>
<line x1="332.66" y1="459.00" x2="332.66" y2="539.00" class="g"/>
<g>
<polyline points="241.6,459.1 243.0,464.3 255.0,465.5 293.0,467.4 342.8,468.0" stroke="#b0aa55" class="cv" style="stroke-width:0.92"/>
<polyline points="241.6,465.6 255.0,466.0 293.0,466.7 342.8,469.0" stroke="#44f0f0" class="cv" style="stroke-width:0.92"/>
<polyline points="241.6,470.0 243.0,474.7 260.0,477.0 290.0,479.8 342.8,481.5" stroke="#4f90c8" class="cv" style="stroke-width:0.92"/>
<polyline points="241.6,470.0 243.0,476.0 248.0,482.0 260.0,484.0 290.0,485.4 342.8,487.5" stroke="#464646" class="cv" style="stroke-width:0.92"/>
<polyline points="241.6,471.0 243.0,477.0 248.0,484.0 255.0,487.8 270.0,490.0 290.0,492.4 342.8,493.2" stroke="#9cc29c" class="cv" style="stroke-width:0.92"/>
<polyline points="241.6,469.0 245.0,471.8 260.0,475.8 275.0,479.2 290.0,482.6 300.0,486.0 305.0,488.5 310.0,491.5 315.0,492.5 330.0,500.0 342.8,503.9" stroke="#ff55ff" class="cv" style="stroke-width:0.92"/>
<polyline points="241.6,468.0 243.0,475.0 246.0,482.0 249.0,487.0 252.0,491.5 260.0,496.0 270.0,498.0 290.0,501.0 315.0,503.5 342.8,505.5" stroke="#c07474" class="cv" style="stroke-width:0.92"/>
<polyline points="241.6,465.0 243.0,472.0 246.0,480.0 249.0,485.0 252.0,490.1 260.0,494.6 270.0,496.5 290.0,499.7 315.0,503.0 342.8,505.1" stroke="#3ee23e" class="cv" style="stroke-width:0.92"/>
<polyline points="241.6,472.0 243.0,480.0 245.0,488.4 250.0,491.0 260.0,494.6 270.0,497.0 280.0,500.5 290.0,506.3 300.0,509.0 315.0,511.0 342.8,514.7" stroke="#9a9a9a" class="cv" style="stroke-width:0.92"/>
<polyline points="241.6,470.0 242.0,480.0 243.0,496.3 245.0,506.5 248.0,514.4 252.0,518.9 257.0,521.8 265.0,523.2 290.0,524.3 328.0,524.5 330.0,525.8 342.8,526.8" stroke="#4444ff" class="cv" style="stroke-width:0.92"/>
<polyline points="241.6,470.0 242.5,480.0 243.5,488.0 245.0,495.2 248.0,503.1 252.0,508.8 260.0,515.5 270.0,521.8 280.0,526.9 290.0,531.4 305.0,535.0 322.0,537.0 342.8,538.0" stroke="#ff4444" class="cv" style="stroke-width:0.92"/>
</g>
<path d="M251.54,539.00v-0.88M251.54,459.00v0.88M261.68,539.00v-0.88M261.68,459.00v0.88M271.82,539.00v-0.88M271.82,459.00v0.88M281.96,539.00v-0.88M281.96,459.00v0.88M292.10,539.00v-0.88M292.10,459.00v0.88M302.24,539.00v-0.88M302.24,459.00v0.88M312.38,539.00v-0.88M312.38,459.00v0.88M322.52,539.00v-0.88M322.52,459.00v0.88M332.66,539.00v-0.88M332.66,459.00v0.88M241.40,525.67h0.88M342.80,525.67h-0.88M241.40,512.33h0.88M342.80,512.33h-0.88M241.40,499.00h0.88M342.80,499.00h-0.88M241.40,485.67h0.88M342.80,485.67h-0.88M241.40,472.33h0.88M342.80,472.33h-0.88M241.40,534.99h0.70M342.80,534.99h-0.70M241.40,532.64h0.70M342.80,532.64h-0.70M241.40,530.97h0.70M342.80,530.97h-0.70M241.40,529.68h0.70M342.80,529.68h-0.70M241.40,528.62h0.70M342.80,528.62h-0.70M241.40,527.73h0.70M342.80,527.73h-0.70M241.40,526.96h0.70M342.80,526.96h-0.70M241.40,526.28h0.70M342.80,526.28h-0.70M241.40,521.65h0.70M342.80,521.65h-0.70M241.40,519.31h0.70M342.80,519.31h-0.70M241.40,517.64h0.70M342.80,517.64h-0.70M241.40,516.35h0.70M342.80,516.35h-0.70M241.40,515.29h0.70M342.80,515.29h-0.70M241.40,514.40h0.70M342.80,514.40h-0.70M241.40,513.63h0.70M342.80,513.63h-0.70M241.40,512.94h0.70M342.80,512.94h-0.70M241.40,508.32h0.70M342.80,508.32h-0.70M241.40,505.97h0.70M342.80,505.97h-0.70M241.40,504.31h0.70M342.80,504.31h-0.70M241.40,503.01h0.70M342.80,503.01h-0.70M241.40,501.96h0.70M342.80,501.96h-0.70M241.40,501.07h0.70M342.80,501.07h-0.70M241.40,500.29h0.70M342.80,500.29h-0.70M241.40,499.61h0.70M342.80,499.61h-0.70M241.40,494.99h0.70M342.80,494.99h-0.70M241.40,492.64h0.70M342.80,492.64h-0.70M241.40,490.97h0.70M342.80,490.97h-0.70M241.40,489.68h0.70M342.80,489.68h-0.70M241.40,488.62h0.70M342.80,488.62h-0.70M241.40,487.73h0.70M342.80,487.73h-0.70M241.40,486.96h0.70M342.80,486.96h-0.70M241.40,486.28h0.70M342.80,486.28h-0.70M241.40,481.65h0.70M342.80,481.65h-0.70M241.40,479.31h0.70M342.80,479.31h-0.70M241.40,477.64h0.70M342.80,477.64h-0.70M241.40,476.35h0.70M342.80,476.35h-0.70M241.40,475.29h0.70M342.80,475.29h-0.70M241.40,474.40h0.70M342.80,474.40h-0.70M241.40,473.63h0.70M342.80,473.63h-0.70M241.40,472.94h0.70M342.80,472.94h-0.70M241.40,468.32h0.70M342.80,468.32h-0.70M241.40,465.97h0.70M342.80,465.97h-0.70M241.40,464.31h0.70M342.80,464.31h-0.70M241.40,463.01h0.70M342.80,463.01h-0.70M241.40,461.96h0.70M342.80,461.96h-0.70M241.40,461.07h0.70M342.80,461.07h-0.70M241.40,460.29h0.70M342.80,460.29h-0.70M241.40,459.61h0.70M342.80,459.61h-0.70" class="tk" style="stroke-width:0.53"/>
<rect x="241.40" y="459.00" width="101.40" height="80.00" class="ax" style="stroke-width:0.79"/>
<text x="251.54" y="543.55" class="tl" text-anchor="middle" style="font-size:2.80px">100</text>
<text x="261.68" y="543.55" class="tl" text-anchor="middle" style="font-size:2.80px">200</text>
<text x="271.82" y="543.55" class="tl" text-anchor="middle" style="font-size:2.80px">300</text>
<text x="281.96" y="543.55" class="tl" text-anchor="middle" style="font-size:2.80px">400</text>
<text x="292.10" y="543.55" class="tl" text-anchor="middle" style="font-size:2.80px">500</text>
<text x="302.24" y="543.55" class="tl" text-anchor="middle" style="font-size:2.80px">600</text>
<text x="312.38" y="543.55" class="tl" text-anchor="middle" style="font-size:2.80px">700</text>
<text x="322.52" y="543.55" class="tl" text-anchor="middle" style="font-size:2.80px">800</text>
<text x="332.66" y="543.55" class="tl" text-anchor="middle" style="font-size:2.80px">900</text>
<text x="342.80" y="543.55" class="tl" text-anchor="middle" style="font-size:2.80px">1000</text>
<text x="240.26" y="541.54" class="tl" text-anchor="end" style="font-size:3.15px">10<tspan dy="-1.40" style="font-size:2.62px">4</tspan></text>
<text x="240.26" y="528.20" class="tl" text-anchor="end" style="font-size:3.15px">10<tspan dy="-1.40" style="font-size:2.62px">5</tspan></text>
<text x="240.26" y="514.87" class="tl" text-anchor="end" style="font-size:3.15px">10<tspan dy="-1.40" style="font-size:2.62px">6</tspan></text>
<text x="240.26" y="501.54" class="tl" text-anchor="end" style="font-size:3.15px">10<tspan dy="-1.40" style="font-size:2.62px">7</tspan></text>
<text x="240.26" y="488.20" class="tl" text-anchor="end" style="font-size:3.15px">10<tspan dy="-1.40" style="font-size:2.62px">8</tspan></text>
<text x="240.26" y="474.87" class="tl" text-anchor="end" style="font-size:3.15px">10<tspan dy="-1.40" style="font-size:2.62px">9</tspan></text>
<text x="240.26" y="461.54" class="tl" text-anchor="end" style="font-size:3.15px">10<tspan dy="-1.40" style="font-size:2.62px">10</tspan></text>
<text x="292.10" y="548.01" class="tl" text-anchor="middle" style="font-size:2.89px">Iteration</text>
<text transform="translate(232.83,499.00) rotate(-90)" class="tl" text-anchor="middle" style="font-size:3.41px">Average Best So-far</text>
<text x="292.10" y="456.99" class="tt" text-anchor="middle" style="font-size:3.54px">Composition Function 10 (N=3)</text>
<rect x="313.84" y="461.98" width="25.90" height="38.85" class="lg" style="stroke-width:0.70"/>
<line x1="316.38" y1="464.29" x2="325.65" y2="464.29" stroke="#ff4444" style="stroke-width:0.78"/>
<text x="326.61" y="465.30" class="lt" style="font-size:2.66px">EEFMHCA</text>
<line x1="316.38" y1="467.73" x2="325.65" y2="467.73" stroke="#4444ff" style="stroke-width:0.78"/>
<text x="326.61" y="468.74" class="lt" style="font-size:2.66px">EFMHCA</text>
<line x1="316.38" y1="471.17" x2="325.65" y2="471.17" stroke="#464646" style="stroke-width:0.78"/>
<text x="326.61" y="472.18" class="lt" style="font-size:2.66px">MCA</text>
<line x1="316.38" y1="474.61" x2="325.65" y2="474.61" stroke="#b0aa55" style="stroke-width:0.78"/>
<text x="326.61" y="475.62" class="lt" style="font-size:2.66px">BCA</text>
<line x1="316.38" y1="478.05" x2="325.65" y2="478.05" stroke="#4f90c8" style="stroke-width:0.78"/>
<text x="326.61" y="479.06" class="lt" style="font-size:2.66px">BSA</text>
<line x1="316.38" y1="481.49" x2="325.65" y2="481.49" stroke="#c07474" style="stroke-width:0.78"/>
<text x="326.61" y="482.49" class="lt" style="font-size:2.66px">CSA</text>
<line x1="316.38" y1="484.93" x2="325.65" y2="484.93" stroke="#3ee23e" style="stroke-width:0.78"/>
<text x="326.61" y="485.93" class="lt" style="font-size:2.66px">SOA</text>
<line x1="316.38" y1="488.37" x2="325.65" y2="488.37" stroke="#44f0f0" style="stroke-width:0.78"/>
<text x="326.61" y="489.37" class="lt" style="font-size:2.66px">WHO</text>
<line x1="316.38" y1="491.80" x2="325.65" y2="491.80" stroke="#ff55ff" style="stroke-width:0.78"/>
<text x="326.61" y="492.81" class="lt" style="font-size:2.66px">WOA</text>
<line x1="316.38" y1="495.24" x2="325.65" y2="495.24" stroke="#9cc29c" style="stroke-width:0.78"/>
<text x="326.61" y="496.25" class="lt" style="font-size:2.66px">DO</text>
<line x1="316.38" y1="498.68" x2="325.65" y2="498.68" stroke="#9a9a9a" style="stroke-width:0.78"/>
<text x="326.61" y="499.69" class="lt" style="font-size:2.66px">FHO</text>
</svg>
</body></html>
